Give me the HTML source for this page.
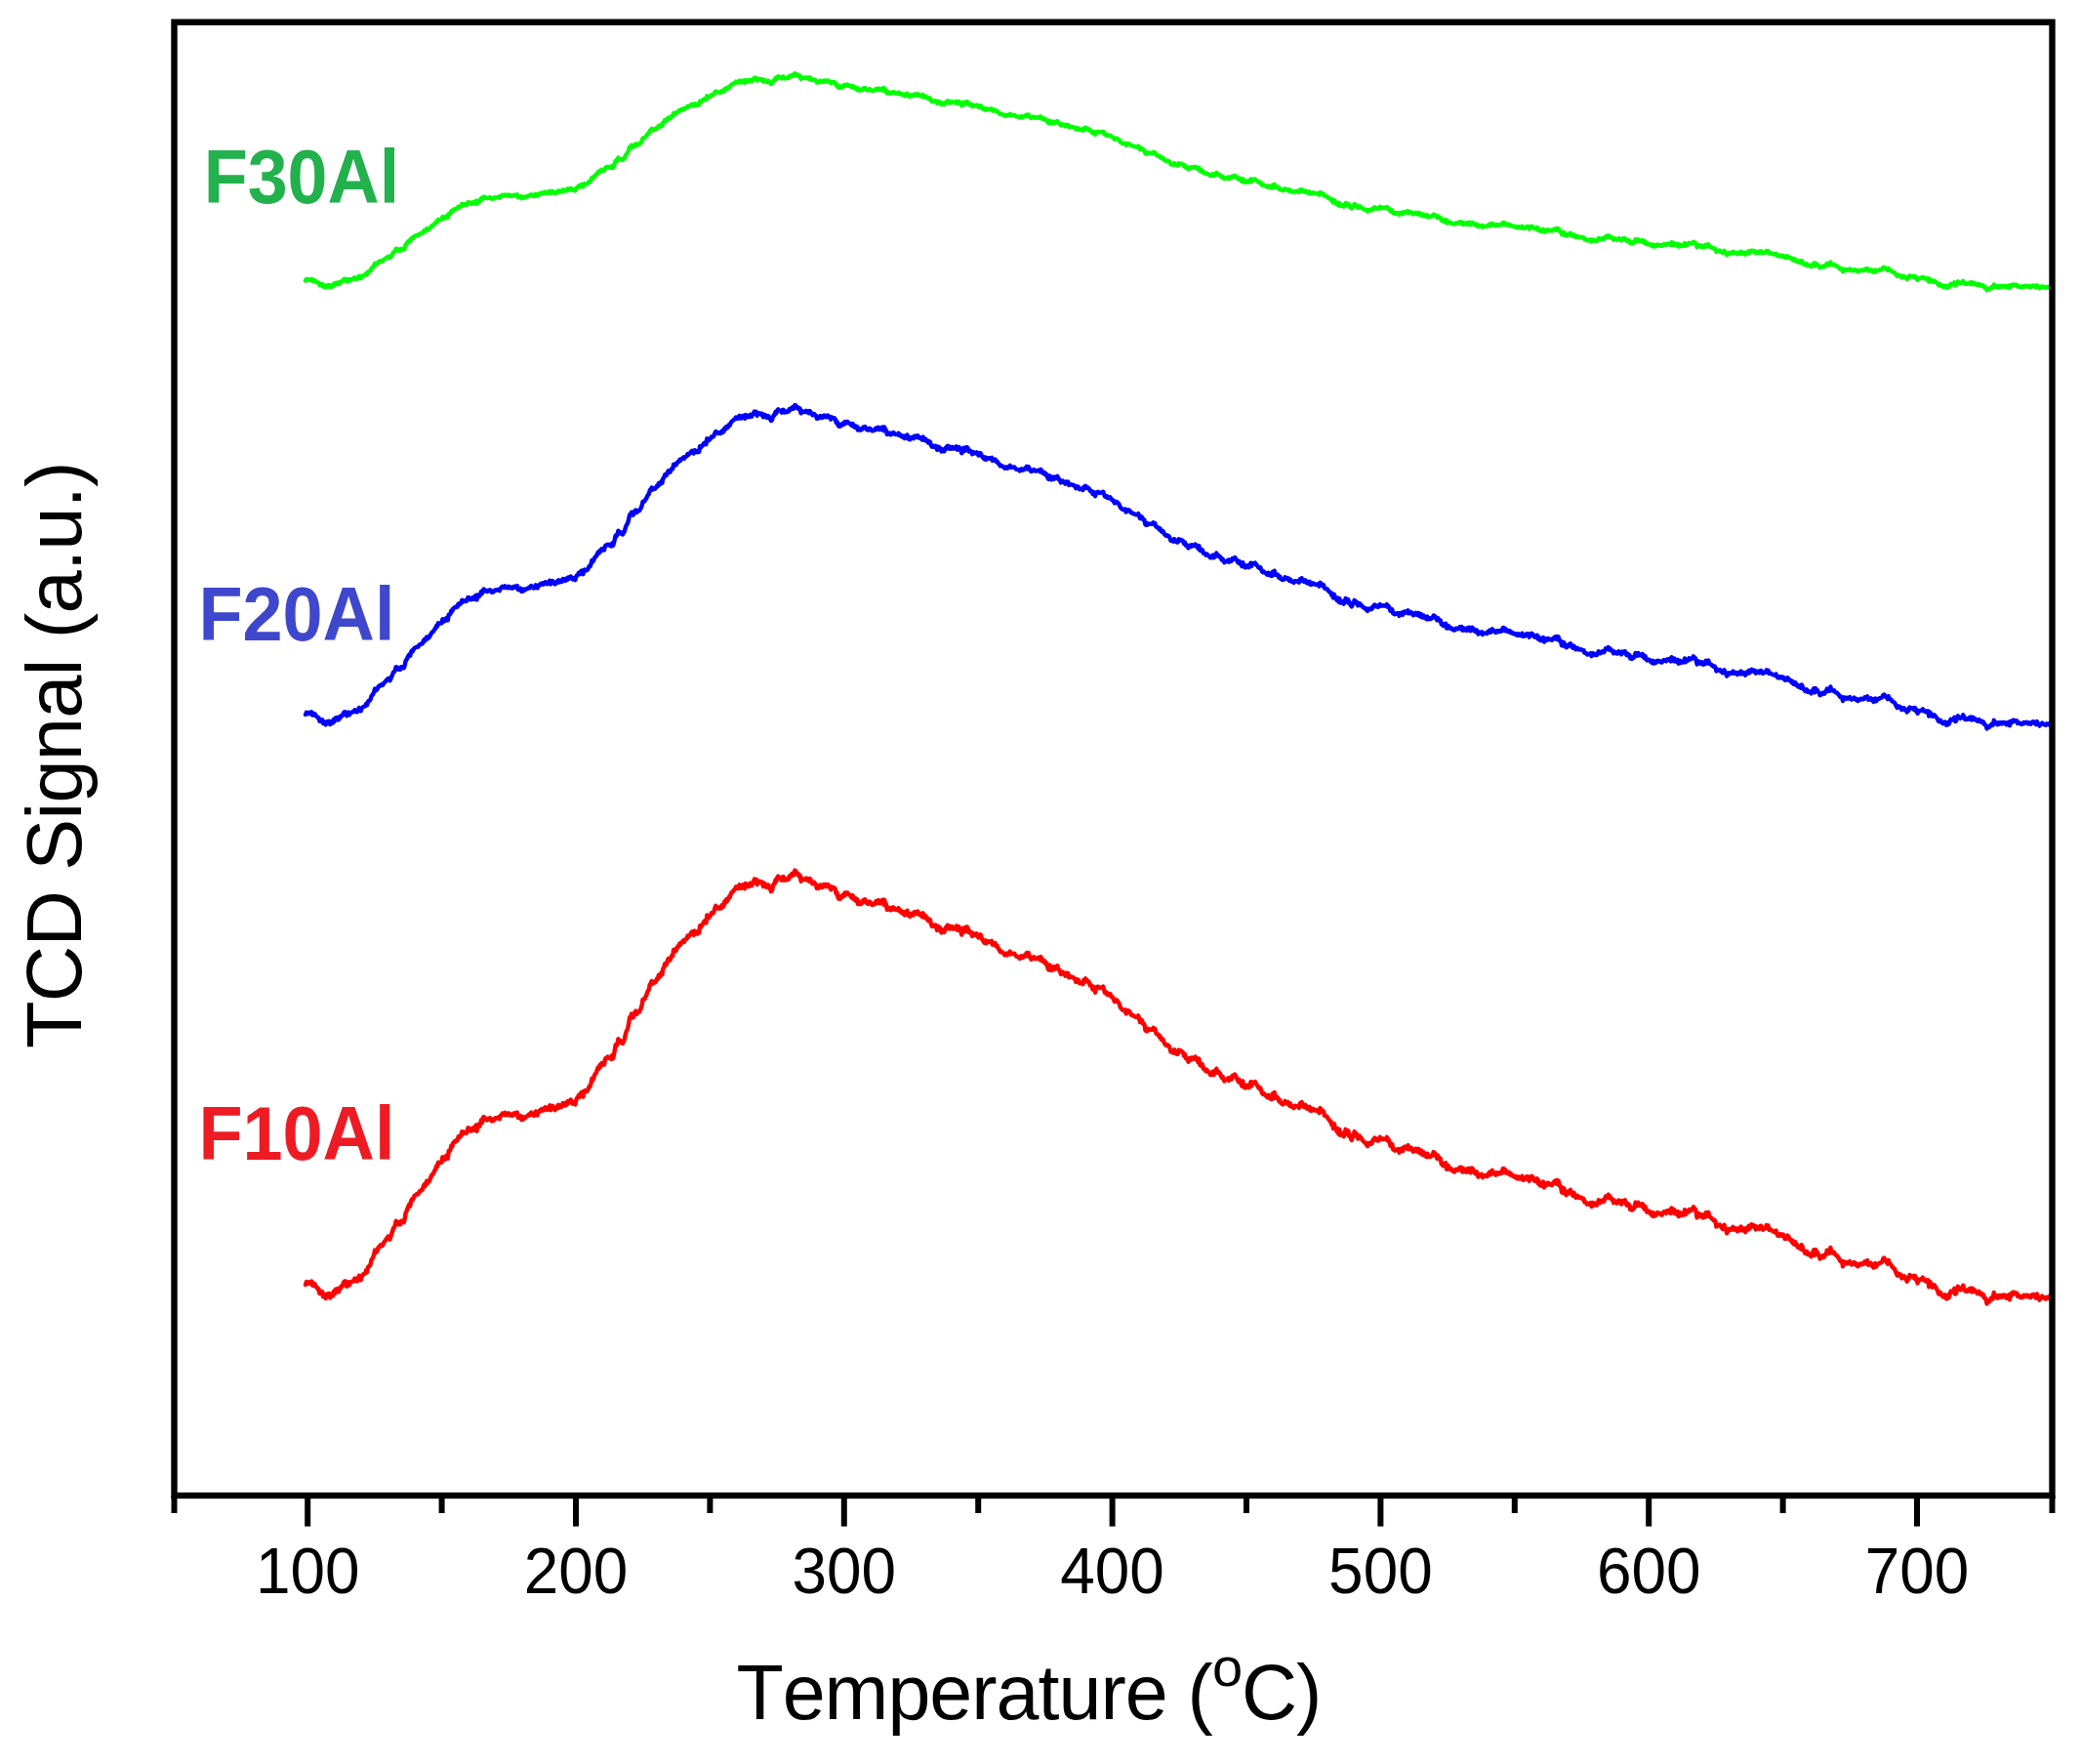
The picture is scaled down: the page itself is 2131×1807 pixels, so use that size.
<!DOCTYPE html>
<html><head><meta charset="utf-8"><title>TCD Signal</title>
<style>
html,body{margin:0;padding:0;background:#fff;}
body{width:2131px;height:1807px;overflow:hidden;}
svg{display:block;font-family:"Liberation Sans",Arial,sans-serif;font-kerning:none;}
</style></head><body>
<svg width="2131" height="1807" viewBox="0 0 2131 1807">
<rect width="2131" height="1807" fill="#fff"/>
<g fill="none" stroke-linejoin="round" stroke-linecap="round" stroke-width="4.4">
<polyline stroke="#00ff00" points="313.0,287.5 313.9,286.0 314.8,286.5 315.7,286.9 316.6,286.2 317.5,286.9 318.4,287.0 319.3,285.8 320.2,288.0 321.1,287.8 322.0,287.0 322.9,287.4 323.8,288.6 324.7,288.9 325.6,289.7 326.5,289.7 327.4,292.0 328.3,291.9 329.2,292.2 330.1,291.0 331.0,293.6 331.9,292.7 332.8,292.5 333.7,294.5 334.6,293.1 335.5,292.3 336.4,293.2 337.3,292.0 338.2,294.3 339.1,292.9 340.0,292.3 340.9,293.3 341.8,290.9 342.7,292.2 343.6,289.9 344.5,290.5 345.4,289.7 346.3,291.2 347.2,291.0 348.1,289.0 349.0,289.4 349.9,288.2 350.8,288.3 351.7,286.8 352.6,285.9 353.5,285.7 354.4,287.2 355.3,288.4 356.2,286.8 357.1,286.0 358.0,287.7 358.9,286.3 359.8,286.1 360.7,286.0 361.6,285.6 362.5,285.3 363.4,284.3 364.3,285.6 365.2,285.0 366.1,285.7 367.0,284.3 367.9,282.9 368.8,284.0 369.7,285.0 370.6,283.2 371.5,282.6 372.4,282.1 373.3,282.0 374.2,281.8 375.1,280.1 376.0,281.1 376.9,278.8 377.8,278.0 378.7,278.0 379.6,277.1 380.5,274.8 381.4,274.2 382.3,273.5 383.2,271.8 384.1,269.8 385.0,271.1 385.9,270.7 386.8,269.8 387.7,268.2 388.6,268.2 389.5,267.3 390.4,267.0 391.3,267.6 392.2,267.2 393.1,266.0 394.0,265.4 394.9,264.9 395.8,264.0 396.7,263.6 397.6,262.8 398.5,262.9 399.4,264.3 400.3,263.0 401.2,261.5 402.1,260.1 403.0,258.6 403.9,258.2 404.8,257.0 405.7,254.9 406.6,256.2 407.5,255.3 408.4,256.6 409.3,255.6 410.2,256.6 411.1,254.9 412.0,254.9 412.9,255.2 413.8,255.7 414.7,253.8 415.6,250.6 416.5,249.9 417.4,248.6 418.3,247.4 419.2,246.4 420.1,247.4 421.0,245.0 421.9,243.8 422.8,244.1 423.7,242.9 424.6,241.9 425.5,241.7 426.4,241.3 427.3,241.0 428.2,241.2 429.1,240.4 430.0,239.5 430.9,239.5 431.8,239.0 432.7,238.9 433.6,237.4 434.5,236.2 435.4,237.1 436.3,235.5 437.2,234.4 438.1,235.6 439.0,234.2 439.9,234.5 440.8,233.2 441.7,232.0 442.6,231.1 443.5,230.8 444.4,230.2 445.3,228.9 446.2,228.5 447.1,226.7 448.0,227.1 448.9,224.9 449.8,225.2 450.7,225.1 451.6,224.6 452.5,224.8 453.4,222.1 454.3,223.5 455.2,223.6 456.1,223.2 457.0,221.5 457.9,222.2 458.8,222.9 459.7,219.0 460.6,219.1 461.5,218.3 462.4,216.3 463.3,216.7 464.2,214.9 465.1,214.5 466.0,213.9 466.9,214.1 467.8,213.4 468.7,213.6 469.6,211.6 470.5,211.6 471.4,211.9 472.3,211.0 473.2,209.1 474.1,210.4 475.0,209.3 475.9,209.7 476.8,209.4 477.7,209.9 478.6,208.8 479.5,207.1 480.4,207.3 481.3,208.6 482.2,207.7 483.1,208.7 484.0,207.9 484.9,207.1 485.8,208.4 486.7,206.9 487.6,205.8 488.5,208.8 489.4,205.5 490.3,206.8 491.2,206.4 492.1,205.2 493.0,203.2 493.9,204.5 494.8,202.1 495.7,201.5 496.6,202.0 497.5,203.0 498.4,202.7 499.3,203.2 500.2,202.4 501.1,202.7 502.0,202.1 502.9,202.9 503.8,203.7 504.7,203.1 505.6,203.5 506.5,202.4 507.4,202.2 508.3,202.4 509.2,201.9 510.1,202.3 511.0,201.7 511.9,202.6 512.8,200.9 513.7,200.6 514.6,199.8 515.5,200.3 516.4,200.5 517.3,199.5 518.2,200.0 519.1,200.6 520.0,199.9 520.9,199.6 521.8,200.8 522.7,200.1 523.6,200.3 524.5,200.9 525.4,200.9 526.3,199.8 527.2,199.6 528.1,200.3 529.0,200.3 529.9,199.3 530.8,202.0 531.7,201.3 532.6,202.1 533.5,201.0 534.4,203.2 535.3,202.1 536.2,202.7 537.1,201.6 538.0,202.1 538.9,201.6 539.8,201.2 540.7,201.2 541.6,200.4 542.5,200.8 543.4,199.7 544.3,199.3 545.2,200.0 546.1,200.5 547.0,201.0 547.9,200.6 548.8,198.7 549.7,200.2 550.6,200.7 551.5,199.3 552.4,198.5 553.3,198.8 554.2,197.8 555.1,198.3 556.0,197.4 556.9,198.2 557.8,197.6 558.7,196.7 559.6,197.7 560.5,198.0 561.4,196.9 562.3,197.0 563.2,195.7 564.1,198.1 565.0,197.0 565.9,195.9 566.8,196.2 567.7,197.4 568.6,198.1 569.5,197.2 570.4,197.3 571.3,195.9 572.2,195.4 573.1,196.9 574.0,196.3 574.9,195.6 575.8,196.4 576.7,194.4 577.6,194.6 578.5,195.4 579.4,195.7 580.3,194.1 581.2,195.1 582.1,193.4 583.0,194.2 583.9,193.8 584.8,192.8 585.7,194.2 586.6,194.8 587.5,194.0 588.4,194.1 589.3,195.3 590.2,193.0 591.1,192.0 592.0,191.7 592.9,190.4 593.8,191.4 594.7,190.1 595.6,188.9 596.5,188.9 597.4,191.3 598.3,188.5 599.2,188.1 600.1,188.7 601.0,188.7 601.9,188.2 602.8,187.1 603.7,185.8 604.6,186.0 605.5,184.3 606.4,181.9 607.3,182.8 608.2,181.7 609.1,180.2 610.0,179.4 610.9,179.0 611.8,177.5 612.7,176.2 613.6,176.8 614.5,175.0 615.4,175.8 616.3,173.9 617.2,174.4 618.1,173.9 619.0,174.8 619.9,172.1 620.8,171.3 621.7,171.4 622.6,170.8 623.5,171.0 624.4,171.5 625.3,171.6 626.2,172.0 627.1,170.0 628.0,171.7 628.9,170.1 629.8,167.3 630.7,164.6 631.6,165.2 632.5,164.2 633.4,161.5 634.3,163.3 635.2,163.1 636.1,162.7 637.0,163.7 637.9,164.0 638.8,162.9 639.7,162.1 640.6,159.8 641.5,158.1 642.4,157.1 643.3,155.8 644.2,153.4 645.1,150.5 646.0,151.0 646.9,148.8 647.8,149.8 648.7,150.7 649.6,149.0 650.5,147.8 651.4,147.3 652.3,149.0 653.2,147.7 654.1,147.8 655.0,147.8 655.9,146.8 656.8,145.7 657.7,144.1 658.6,141.4 659.5,141.4 660.4,141.3 661.3,140.1 662.2,139.3 663.1,137.8 664.0,136.8 664.9,136.2 665.8,133.7 666.7,133.3 667.6,131.9 668.5,133.5 669.4,132.4 670.3,132.3 671.2,132.7 672.1,132.0 673.0,130.7 673.9,131.0 674.8,128.9 675.7,129.9 676.6,129.3 677.5,127.6 678.4,128.8 679.3,125.7 680.2,125.1 681.1,123.1 682.0,123.7 682.9,123.5 683.8,121.5 684.7,120.5 685.6,121.1 686.5,121.4 687.4,119.8 688.3,118.9 689.2,119.1 690.1,116.0 691.0,116.9 691.9,115.7 692.8,116.3 693.7,115.0 694.6,114.1 695.5,114.1 696.4,112.7 697.3,113.3 698.2,112.2 699.1,112.0 700.0,111.2 700.9,112.0 701.8,110.7 702.7,110.7 703.6,110.2 704.5,108.8 705.4,109.4 706.3,108.7 707.2,108.2 708.1,107.2 709.0,106.7 709.9,107.3 710.8,108.5 711.7,106.3 712.6,107.4 713.5,106.8 714.4,107.8 715.3,107.6 716.2,107.3 717.1,103.6 718.0,104.4 718.9,103.3 719.8,103.1 720.7,101.8 721.6,101.3 722.5,101.8 723.4,102.3 724.3,98.3 725.2,99.7 726.1,99.7 727.0,99.0 727.9,98.3 728.8,97.1 729.7,97.0 730.6,97.2 731.5,96.3 732.4,94.5 733.3,93.5 734.2,94.3 735.1,94.1 736.0,94.8 736.9,94.6 737.8,94.2 738.7,94.7 739.6,93.1 740.5,94.0 741.4,93.6 742.3,91.3 743.2,91.8 744.1,90.2 745.0,91.1 745.9,90.4 746.8,88.9 747.7,89.2 748.6,87.5 749.5,86.7 750.4,86.2 751.3,85.9 752.2,85.1 753.1,84.9 754.0,83.7 754.9,84.5 755.8,84.6 756.7,83.4 757.6,82.7 758.5,84.2 759.4,84.5 760.3,83.5 761.2,82.6 762.1,83.7 763.0,84.6 763.9,82.0 764.8,83.7 765.7,83.1 766.6,82.6 767.5,83.5 768.4,81.8 769.3,82.7 770.2,83.1 771.1,81.9 772.0,80.8 772.9,79.8 773.8,80.2 774.7,79.9 775.6,82.6 776.5,81.4 777.4,80.9 778.3,80.8 779.2,81.2 780.1,81.8 781.0,81.3 781.9,83.6 782.8,81.9 783.7,82.0 784.6,83.0 785.5,84.0 786.4,84.0 787.3,82.8 788.2,84.1 789.1,84.9 790.0,86.1 790.9,85.7 791.8,83.6 792.7,82.3 793.6,82.2 794.5,80.1 795.4,80.9 796.3,78.9 797.2,78.3 798.1,79.0 799.0,79.0 799.9,79.4 800.8,80.4 801.7,78.7 802.6,78.5 803.5,80.3 804.4,80.1 805.3,80.3 806.2,80.1 807.1,79.3 808.0,79.7 808.9,78.1 809.8,78.5 810.7,77.5 811.6,76.9 812.5,77.9 813.4,77.5 814.3,75.3 815.2,75.6 816.1,76.3 817.0,77.4 817.9,77.0 818.8,78.3 819.7,77.9 820.6,80.9 821.5,79.5 822.4,79.9 823.3,79.8 824.2,80.1 825.1,79.9 826.0,79.3 826.9,80.2 827.8,79.8 828.7,80.8 829.6,79.4 830.5,80.0 831.4,81.3 832.3,82.1 833.2,81.7 834.1,81.4 835.0,82.2 835.9,82.4 836.8,84.5 837.7,84.2 838.6,84.5 839.5,83.6 840.4,82.7 841.3,83.9 842.2,84.0 843.1,83.1 844.0,82.5 844.9,83.5 845.8,82.5 846.7,83.5 847.6,82.6 848.5,82.5 849.4,83.8 850.3,83.8 851.2,85.1 852.1,83.7 853.0,84.3 853.9,84.1 854.8,84.2 855.7,84.9 856.6,87.2 857.5,86.6 858.4,89.0 859.3,89.8 860.2,88.6 861.1,89.8 862.0,88.6 862.9,89.0 863.8,87.8 864.7,88.4 865.6,86.8 866.5,87.7 867.4,86.7 868.3,86.7 869.2,87.7 870.1,87.7 871.0,87.9 871.9,88.9 872.8,89.3 873.7,88.1 874.6,89.9 875.5,90.4 876.4,89.7 877.3,91.0 878.2,90.1 879.1,92.5 880.0,91.7 880.9,91.7 881.8,92.5 882.7,91.4 883.6,91.9 884.5,90.5 885.4,90.8 886.3,90.1 887.2,91.1 888.1,92.2 889.0,91.7 889.9,92.4 890.8,91.2 891.7,91.6 892.6,92.1 893.5,93.0 894.4,92.8 895.3,92.6 896.2,92.6 897.1,91.2 898.0,91.1 898.9,92.1 899.8,90.6 900.7,91.1 901.6,92.2 902.5,91.0 903.4,91.4 904.3,90.4 905.2,92.8 906.1,90.4 907.0,92.0 907.9,92.7 908.8,95.5 909.7,95.2 910.6,95.3 911.5,94.5 912.4,95.7 913.3,95.4 914.2,94.8 915.1,94.2 916.0,94.4 916.9,95.4 917.8,95.5 918.7,95.5 919.6,95.6 920.5,94.6 921.4,96.2 922.3,95.6 923.2,96.6 924.1,97.1 925.0,96.5 925.9,96.5 926.8,98.2 927.7,97.9 928.6,97.4 929.5,95.9 930.4,98.3 931.3,98.7 932.2,99.0 933.1,97.5 934.0,97.4 934.9,97.4 935.8,98.3 936.7,96.6 937.6,97.3 938.5,96.6 939.4,97.4 940.3,96.2 941.2,97.9 942.1,97.4 943.0,97.7 943.9,98.5 944.8,99.1 945.7,97.1 946.6,99.3 947.5,99.2 948.4,98.7 949.3,100.1 950.2,99.8 951.1,101.1 952.0,100.2 952.9,100.5 953.8,102.6 954.7,103.9 955.6,103.2 956.5,104.0 957.4,103.5 958.3,103.3 959.2,104.4 960.1,106.0 961.0,103.8 961.9,105.2 962.8,104.4 963.7,106.3 964.6,107.2 965.5,105.7 966.4,106.0 967.3,107.0 968.2,105.7 969.1,104.5 970.0,104.2 970.9,103.3 971.8,105.2 972.7,103.9 973.6,105.3 974.5,105.2 975.4,104.1 976.3,104.2 977.2,105.3 978.1,104.9 979.0,105.0 979.9,103.7 980.8,105.9 981.7,104.9 982.6,104.1 983.5,105.7 984.4,106.7 985.3,108.3 986.2,106.0 987.1,104.8 988.0,106.9 988.9,104.9 989.8,104.3 990.7,104.2 991.6,104.8 992.5,107.2 993.4,106.4 994.3,106.7 995.2,107.2 996.1,109.0 997.0,107.5 997.9,108.5 998.8,108.3 999.7,108.4 1000.6,107.7 1001.5,108.9 1002.4,109.7 1003.3,108.6 1004.2,108.2 1005.1,108.7 1006.0,110.6 1006.9,111.0 1007.8,111.9 1008.7,112.4 1009.6,111.1 1010.5,112.6 1011.4,112.1 1012.3,111.6 1013.2,111.7 1014.1,112.0 1015.0,111.7 1015.9,111.5 1016.8,113.4 1017.7,112.6 1018.6,112.7 1019.5,112.5 1020.4,114.1 1021.3,113.7 1022.2,114.5 1023.1,115.7 1024.0,115.9 1024.9,117.1 1025.8,117.0 1026.7,117.0 1027.6,117.5 1028.5,117.8 1029.4,118.7 1030.3,118.2 1031.2,117.8 1032.1,118.7 1033.0,118.1 1033.9,117.6 1034.8,116.8 1035.7,118.2 1036.6,118.0 1037.5,117.9 1038.4,117.9 1039.3,117.9 1040.2,118.7 1041.1,119.3 1042.0,119.3 1042.9,119.6 1043.8,119.7 1044.7,120.5 1045.6,120.1 1046.5,119.1 1047.4,120.0 1048.3,119.8 1049.2,119.5 1050.1,118.6 1051.0,118.3 1051.9,117.5 1052.8,119.3 1053.7,117.5 1054.6,119.2 1055.5,119.6 1056.4,120.9 1057.3,120.6 1058.2,119.9 1059.1,119.6 1060.0,120.0 1060.9,120.6 1061.8,120.6 1062.7,120.3 1063.6,119.9 1064.5,120.2 1065.4,121.1 1066.3,119.5 1067.2,120.3 1068.1,121.9 1069.0,121.7 1069.9,121.5 1070.8,122.9 1071.7,122.5 1072.6,123.6 1073.5,125.4 1074.4,126.2 1075.3,123.7 1076.2,125.6 1077.1,126.5 1078.0,124.6 1078.9,125.2 1079.8,126.2 1080.7,124.7 1081.6,125.4 1082.5,125.2 1083.4,124.1 1084.3,126.2 1085.2,126.1 1086.1,127.3 1087.0,128.5 1087.9,127.8 1088.8,127.3 1089.7,128.3 1090.6,128.4 1091.5,129.4 1092.4,127.9 1093.3,128.4 1094.2,128.0 1095.1,130.2 1096.0,129.9 1096.9,129.7 1097.8,129.8 1098.7,130.1 1099.6,130.1 1100.5,130.7 1101.4,130.8 1102.3,132.4 1103.2,131.8 1104.1,131.2 1105.0,131.6 1105.9,133.1 1106.8,132.8 1107.7,132.8 1108.6,133.1 1109.5,133.6 1110.4,131.4 1111.3,131.6 1112.2,130.7 1113.1,132.3 1114.0,131.7 1114.9,132.0 1115.8,132.5 1116.7,134.1 1117.6,134.1 1118.5,134.3 1119.4,136.2 1120.3,135.0 1121.2,135.1 1122.1,137.8 1123.0,135.4 1123.9,135.1 1124.8,134.8 1125.7,135.1 1126.6,135.6 1127.5,135.4 1128.4,135.3 1129.3,135.2 1130.2,134.8 1131.1,136.6 1132.0,138.0 1132.9,138.2 1133.8,137.8 1134.7,139.0 1135.6,138.5 1136.5,139.1 1137.4,138.6 1138.3,139.6 1139.2,140.3 1140.1,140.4 1141.0,141.4 1141.9,142.6 1142.8,142.5 1143.7,141.6 1144.6,141.9 1145.5,142.7 1146.4,143.2 1147.3,144.7 1148.2,145.7 1149.1,146.3 1150.0,146.9 1150.9,147.0 1151.8,147.0 1152.7,146.7 1153.6,148.7 1154.5,148.3 1155.4,147.0 1156.3,147.2 1157.2,147.6 1158.1,148.3 1159.0,149.3 1159.9,149.3 1160.8,149.5 1161.7,149.8 1162.6,150.2 1163.5,150.3 1164.4,150.5 1165.3,150.5 1166.2,149.6 1167.1,151.2 1168.0,153.1 1168.9,151.7 1169.8,152.0 1170.7,153.6 1171.6,153.5 1172.5,154.4 1173.4,157.2 1174.3,157.7 1175.2,157.6 1176.1,156.4 1177.0,157.0 1177.9,156.7 1178.8,156.9 1179.7,157.0 1180.6,156.8 1181.5,155.9 1182.4,157.0 1183.3,156.4 1184.2,158.4 1185.1,159.2 1186.0,159.1 1186.9,159.5 1187.8,160.6 1188.7,160.2 1189.6,161.8 1190.5,162.2 1191.4,161.7 1192.3,162.9 1193.2,164.2 1194.1,164.6 1195.0,165.0 1195.9,164.6 1196.8,164.9 1197.7,165.3 1198.6,166.5 1199.5,168.3 1200.4,168.0 1201.3,168.6 1202.2,168.9 1203.1,167.1 1204.0,168.6 1204.9,168.6 1205.8,169.5 1206.7,169.4 1207.6,167.3 1208.5,167.5 1209.4,168.0 1210.3,167.7 1211.2,168.1 1212.1,168.6 1213.0,170.3 1213.9,169.5 1214.8,171.5 1215.7,171.2 1216.6,172.2 1217.5,173.3 1218.4,171.6 1219.3,171.5 1220.2,172.3 1221.1,171.2 1222.0,171.3 1222.9,171.7 1223.8,171.9 1224.7,170.8 1225.6,171.4 1226.5,172.3 1227.4,173.5 1228.3,171.7 1229.2,174.8 1230.1,175.2 1231.0,174.4 1231.9,174.8 1232.8,176.8 1233.7,176.7 1234.6,177.4 1235.5,178.1 1236.4,177.5 1237.3,178.1 1238.2,178.6 1239.1,179.1 1240.0,180.0 1240.9,180.0 1241.8,178.8 1242.7,178.2 1243.6,180.0 1244.5,178.5 1245.4,178.2 1246.3,176.9 1247.2,178.8 1248.1,178.3 1249.0,179.2 1249.9,179.2 1250.8,180.4 1251.7,181.5 1252.6,180.9 1253.5,182.0 1254.4,183.2 1255.3,182.7 1256.2,182.4 1257.1,182.5 1258.0,181.7 1258.9,183.0 1259.8,181.5 1260.7,182.5 1261.6,182.4 1262.5,180.5 1263.4,181.1 1264.3,180.5 1265.2,179.8 1266.1,180.9 1267.0,181.5 1267.9,182.8 1268.8,183.5 1269.7,182.5 1270.6,183.5 1271.5,184.8 1272.4,185.8 1273.3,183.3 1274.2,186.2 1275.1,185.3 1276.0,186.8 1276.9,185.5 1277.8,185.4 1278.7,186.0 1279.6,186.6 1280.5,185.6 1281.4,183.6 1282.3,185.7 1283.2,183.8 1284.1,184.1 1285.0,183.8 1285.9,183.5 1286.8,184.5 1287.7,185.1 1288.6,185.9 1289.5,186.8 1290.4,187.1 1291.3,186.7 1292.2,188.1 1293.1,189.5 1294.0,189.9 1294.9,189.5 1295.8,190.1 1296.7,190.6 1297.6,191.1 1298.5,191.6 1299.4,190.3 1300.3,190.6 1301.2,192.1 1302.1,192.4 1303.0,192.5 1303.9,189.6 1304.8,191.2 1305.7,188.9 1306.6,191.9 1307.5,191.4 1308.4,191.4 1309.3,191.8 1310.2,193.5 1311.1,192.9 1312.0,194.4 1312.9,194.6 1313.8,195.0 1314.7,195.1 1315.6,194.6 1316.5,193.4 1317.4,194.4 1318.3,194.1 1319.2,193.9 1320.1,195.1 1321.0,195.8 1321.9,194.7 1322.8,196.1 1323.7,196.5 1324.6,196.4 1325.5,197.0 1326.4,195.9 1327.3,196.0 1328.2,196.2 1329.1,196.0 1330.0,195.8 1330.9,196.9 1331.8,194.6 1332.7,194.9 1333.6,194.0 1334.5,195.5 1335.4,196.2 1336.3,196.5 1337.2,195.4 1338.1,195.9 1339.0,197.3 1339.9,196.5 1340.8,197.6 1341.7,196.4 1342.6,198.4 1343.5,198.4 1344.4,198.2 1345.3,197.3 1346.2,197.9 1347.1,198.2 1348.0,198.4 1348.9,198.2 1349.8,198.1 1350.7,198.5 1351.6,199.5 1352.5,197.0 1353.4,197.7 1354.3,198.0 1355.2,199.1 1356.1,198.8 1357.0,201.0 1357.9,201.1 1358.8,201.2 1359.7,201.4 1360.6,202.5 1361.5,202.9 1362.4,203.7 1363.3,203.7 1364.2,205.5 1365.1,204.7 1366.0,207.6 1366.9,205.1 1367.8,207.6 1368.7,207.4 1369.6,209.1 1370.5,207.6 1371.4,210.3 1372.3,208.0 1373.2,210.9 1374.1,209.9 1375.0,209.9 1375.9,210.4 1376.8,211.6 1377.7,210.4 1378.6,207.9 1379.5,210.2 1380.4,209.3 1381.3,208.7 1382.2,211.4 1383.1,210.8 1384.0,212.8 1384.9,213.5 1385.8,211.7 1386.7,211.5 1387.6,209.1 1388.5,210.2 1389.4,210.1 1390.3,210.8 1391.2,212.8 1392.1,211.8 1393.0,211.3 1393.9,212.5 1394.8,212.4 1395.7,213.4 1396.6,214.0 1397.5,214.4 1398.4,214.8 1399.3,214.8 1400.2,216.0 1401.1,216.5 1402.0,215.0 1402.9,215.1 1403.8,214.9 1404.7,215.5 1405.6,215.0 1406.5,213.4 1407.4,213.7 1408.3,212.3 1409.2,212.6 1410.1,213.3 1411.0,213.6 1411.9,213.8 1412.8,212.8 1413.7,211.9 1414.6,213.1 1415.5,212.6 1416.4,213.0 1417.3,212.7 1418.2,213.1 1419.1,212.9 1420.0,213.0 1420.9,212.0 1421.8,213.7 1422.7,213.3 1423.6,214.4 1424.5,216.4 1425.4,216.0 1426.3,215.5 1427.2,218.2 1428.1,218.5 1429.0,218.8 1429.9,218.2 1430.8,218.5 1431.7,218.2 1432.6,218.0 1433.5,219.9 1434.4,218.3 1435.3,218.0 1436.2,217.7 1437.1,219.1 1438.0,218.1 1438.9,216.9 1439.8,216.9 1440.7,217.4 1441.6,217.8 1442.5,216.1 1443.4,218.1 1444.3,217.4 1445.2,217.2 1446.1,217.5 1447.0,218.6 1447.9,219.4 1448.8,218.3 1449.7,218.8 1450.6,217.9 1451.5,219.0 1452.4,219.4 1453.3,217.9 1454.2,219.0 1455.1,220.3 1456.0,218.7 1456.9,220.0 1457.8,221.1 1458.7,219.7 1459.6,221.0 1460.5,221.4 1461.4,222.0 1462.3,220.3 1463.2,222.1 1464.1,221.4 1465.0,222.0 1465.9,221.9 1466.8,221.2 1467.7,221.3 1468.6,219.6 1469.5,219.8 1470.4,220.4 1471.3,221.4 1472.2,222.8 1473.1,221.3 1474.0,222.9 1474.9,222.6 1475.8,222.9 1476.7,225.7 1477.6,225.1 1478.5,226.7 1479.4,226.7 1480.3,225.4 1481.2,225.1 1482.1,228.4 1483.0,226.9 1483.9,226.7 1484.8,228.4 1485.7,228.3 1486.6,228.1 1487.5,228.6 1488.4,229.4 1489.3,229.5 1490.2,229.7 1491.1,228.6 1492.0,228.4 1492.9,228.8 1493.8,228.3 1494.7,228.6 1495.6,227.4 1496.5,227.9 1497.4,227.5 1498.3,229.8 1499.2,228.0 1500.1,229.6 1501.0,228.8 1501.9,229.7 1502.8,229.9 1503.7,228.0 1504.6,229.1 1505.5,227.8 1506.4,230.2 1507.3,228.7 1508.2,227.8 1509.1,228.4 1510.0,229.8 1510.9,230.4 1511.8,230.7 1512.7,229.6 1513.6,230.5 1514.5,232.3 1515.4,231.0 1516.3,231.7 1517.2,231.3 1518.1,230.9 1519.0,232.6 1519.9,232.0 1520.8,231.7 1521.7,231.7 1522.6,231.9 1523.5,232.1 1524.4,230.8 1525.3,230.4 1526.2,229.7 1527.1,231.2 1528.0,229.8 1528.9,228.9 1529.8,229.9 1530.7,230.2 1531.6,231.0 1532.5,231.3 1533.4,230.1 1534.3,230.2 1535.2,230.8 1536.1,230.1 1537.0,230.5 1537.9,230.5 1538.8,229.8 1539.7,228.1 1540.6,228.0 1541.5,230.1 1542.4,228.7 1543.3,230.3 1544.2,230.5 1545.1,230.1 1546.0,229.9 1546.9,231.1 1547.8,230.6 1548.7,231.4 1549.6,231.9 1550.5,231.6 1551.4,232.3 1552.3,232.5 1553.2,232.1 1554.1,233.2 1555.0,233.2 1555.9,232.3 1556.8,233.3 1557.7,233.3 1558.6,233.0 1559.5,231.8 1560.4,233.9 1561.3,233.8 1562.2,233.7 1563.1,233.3 1564.0,232.1 1564.9,233.1 1565.8,232.2 1566.7,234.5 1567.6,232.4 1568.5,233.3 1569.4,231.9 1570.3,232.4 1571.2,233.2 1572.1,234.3 1573.0,234.4 1573.9,234.5 1574.8,233.1 1575.7,235.6 1576.6,234.3 1577.5,236.5 1578.4,236.8 1579.3,236.1 1580.2,236.3 1581.1,234.8 1582.0,237.7 1582.9,236.1 1583.8,236.8 1584.7,235.5 1585.6,236.2 1586.5,235.4 1587.4,236.3 1588.3,236.1 1589.2,236.0 1590.1,236.5 1591.0,235.5 1591.9,235.0 1592.8,234.5 1593.7,235.6 1594.6,234.0 1595.5,235.9 1596.4,234.1 1597.3,235.5 1598.2,237.1 1599.1,237.2 1600.0,240.1 1600.9,240.4 1601.8,237.9 1602.7,238.8 1603.6,240.0 1604.5,241.6 1605.4,241.3 1606.3,240.8 1607.2,239.6 1608.1,240.2 1609.0,238.9 1609.9,239.9 1610.8,241.5 1611.7,241.9 1612.6,240.5 1613.5,241.7 1614.4,242.9 1615.3,242.0 1616.2,241.9 1617.1,242.9 1618.0,243.0 1618.9,243.0 1619.8,242.8 1620.7,243.1 1621.6,243.7 1622.5,243.5 1623.4,245.2 1624.3,245.1 1625.2,245.5 1626.1,246.4 1627.0,246.2 1627.9,246.3 1628.8,245.7 1629.7,245.5 1630.6,247.5 1631.5,245.5 1632.4,245.7 1633.3,245.8 1634.2,246.8 1635.1,246.6 1636.0,246.8 1636.9,245.6 1637.8,244.1 1638.7,245.4 1639.6,245.6 1640.5,244.6 1641.4,244.2 1642.3,244.5 1643.2,244.9 1644.1,243.6 1645.0,242.3 1645.9,242.7 1646.8,242.8 1647.7,241.3 1648.6,243.0 1649.5,242.2 1650.4,243.5 1651.3,243.7 1652.2,243.7 1653.1,245.6 1654.0,244.4 1654.9,244.7 1655.8,245.5 1656.7,245.8 1657.6,245.1 1658.5,244.2 1659.4,245.4 1660.3,245.3 1661.2,246.3 1662.1,244.5 1663.0,244.7 1663.9,244.4 1664.8,244.2 1665.7,245.8 1666.6,246.8 1667.5,245.9 1668.4,246.6 1669.3,246.6 1670.2,249.0 1671.1,248.0 1672.0,249.3 1672.9,248.7 1673.8,248.7 1674.7,247.4 1675.6,245.3 1676.5,246.7 1677.4,247.2 1678.3,245.3 1679.2,246.9 1680.1,246.8 1681.0,246.5 1681.9,247.2 1682.8,246.1 1683.7,247.8 1684.6,248.8 1685.5,247.4 1686.4,248.8 1687.3,250.3 1688.2,249.8 1689.1,249.8 1690.0,249.9 1690.9,251.2 1691.8,251.4 1692.7,252.2 1693.6,250.6 1694.5,252.5 1695.4,251.3 1696.3,252.1 1697.2,251.0 1698.1,250.6 1699.0,251.1 1699.9,250.7 1700.8,251.1 1701.7,251.7 1702.6,251.8 1703.5,251.0 1704.4,250.2 1705.3,250.1 1706.2,250.7 1707.1,250.9 1708.0,249.7 1708.9,249.8 1709.8,249.5 1710.7,250.3 1711.6,251.0 1712.5,248.2 1713.4,250.7 1714.3,250.2 1715.2,249.0 1716.1,251.1 1717.0,250.9 1717.9,251.2 1718.8,249.9 1719.7,252.6 1720.6,251.0 1721.5,250.7 1722.4,252.1 1723.3,251.4 1724.2,251.6 1725.1,251.7 1726.0,249.0 1726.9,251.6 1727.8,249.9 1728.7,250.1 1729.6,250.4 1730.5,248.9 1731.4,249.5 1732.3,249.6 1733.2,248.8 1734.1,248.9 1735.0,247.7 1735.9,248.3 1736.8,248.7 1737.7,250.3 1738.6,253.2 1739.5,250.9 1740.4,251.0 1741.3,251.4 1742.2,252.6 1743.1,252.8 1744.0,251.7 1744.9,253.2 1745.8,252.3 1746.7,252.8 1747.6,250.6 1748.5,250.8 1749.4,252.3 1750.3,250.4 1751.2,252.5 1752.1,252.8 1753.0,253.1 1753.9,253.7 1754.8,254.1 1755.7,254.6 1756.6,254.4 1757.5,255.1 1758.4,257.8 1759.3,256.9 1760.2,256.9 1761.1,257.2 1762.0,256.7 1762.9,257.9 1763.8,257.8 1764.7,258.9 1765.6,257.8 1766.5,256.9 1767.4,258.5 1768.3,259.6 1769.2,261.2 1770.1,260.3 1771.0,259.0 1771.9,259.6 1772.8,258.9 1773.7,259.3 1774.6,258.6 1775.5,257.9 1776.4,259.3 1777.3,259.0 1778.2,258.6 1779.1,258.8 1780.0,260.1 1780.9,258.8 1781.8,258.5 1782.7,259.6 1783.6,257.8 1784.5,259.7 1785.4,258.7 1786.3,258.8 1787.2,259.6 1788.1,260.6 1789.0,258.5 1789.9,259.6 1790.8,258.9 1791.7,257.4 1792.6,258.9 1793.5,257.3 1794.4,256.6 1795.3,256.9 1796.2,257.0 1797.1,258.2 1798.0,257.4 1798.9,259.2 1799.8,258.4 1800.7,257.9 1801.6,258.0 1802.5,259.0 1803.4,257.5 1804.3,257.3 1805.2,258.3 1806.1,259.3 1807.0,258.9 1807.9,258.8 1808.8,258.5 1809.7,257.0 1810.6,258.4 1811.5,257.2 1812.4,259.4 1813.3,259.0 1814.2,259.2 1815.1,259.8 1816.0,260.0 1816.9,260.2 1817.8,260.6 1818.7,260.1 1819.6,259.8 1820.5,261.3 1821.4,262.4 1822.3,262.3 1823.2,261.6 1824.1,262.4 1825.0,261.7 1825.9,262.4 1826.8,261.8 1827.7,262.4 1828.6,263.9 1829.5,263.1 1830.4,263.8 1831.3,262.3 1832.2,262.8 1833.1,263.6 1834.0,264.5 1834.9,264.3 1835.8,265.6 1836.7,264.9 1837.6,266.7 1838.5,266.8 1839.4,265.7 1840.3,267.4 1841.2,267.1 1842.1,268.4 1843.0,267.6 1843.9,268.6 1844.8,269.2 1845.7,267.1 1846.6,268.1 1847.5,270.0 1848.4,270.2 1849.3,271.4 1850.2,271.2 1851.1,270.4 1852.0,272.0 1852.9,271.5 1853.8,272.3 1854.7,272.5 1855.6,273.1 1856.5,271.3 1857.4,271.0 1858.3,269.6 1859.2,272.4 1860.1,269.6 1861.0,270.4 1861.9,270.9 1862.8,271.9 1863.7,272.8 1864.6,274.3 1865.5,273.9 1866.4,273.7 1867.3,272.6 1868.2,272.7 1869.1,273.3 1870.0,272.0 1870.9,271.9 1871.8,269.8 1872.7,271.4 1873.6,270.9 1874.5,271.3 1875.4,268.5 1876.3,270.8 1877.2,270.9 1878.1,271.3 1879.0,270.9 1879.9,271.8 1880.8,272.4 1881.7,272.5 1882.6,273.0 1883.5,273.8 1884.4,274.4 1885.3,275.5 1886.2,275.7 1887.1,275.4 1888.0,278.2 1888.9,275.8 1889.8,276.9 1890.7,275.9 1891.6,276.6 1892.5,276.0 1893.4,276.6 1894.3,275.9 1895.2,275.5 1896.1,276.6 1897.0,277.3 1897.9,276.7 1898.8,276.7 1899.7,276.0 1900.6,276.9 1901.5,277.5 1902.4,276.8 1903.3,278.2 1904.2,277.4 1905.1,277.6 1906.0,276.8 1906.9,276.6 1907.8,277.0 1908.7,277.0 1909.6,276.8 1910.5,275.7 1911.4,275.7 1912.3,276.3 1913.2,275.1 1914.1,277.4 1915.0,277.0 1915.9,276.9 1916.8,276.4 1917.7,277.7 1918.6,277.0 1919.5,278.8 1920.4,277.8 1921.3,276.5 1922.2,278.3 1923.1,277.4 1924.0,276.9 1924.9,276.7 1925.8,276.3 1926.7,276.2 1927.6,276.1 1928.5,275.4 1929.4,274.1 1930.3,273.8 1931.2,274.4 1932.1,275.4 1933.0,276.0 1933.9,276.9 1934.8,274.9 1935.7,276.6 1936.6,276.9 1937.5,277.3 1938.4,278.3 1939.3,278.6 1940.2,279.1 1941.1,279.4 1942.0,280.8 1942.9,281.8 1943.8,282.8 1944.7,281.8 1945.6,281.9 1946.5,282.7 1947.4,282.5 1948.3,284.2 1949.2,283.0 1950.1,283.9 1951.0,283.1 1951.9,284.1 1952.8,284.7 1953.7,285.9 1954.6,284.0 1955.5,284.6 1956.4,282.5 1957.3,283.0 1958.2,283.0 1959.1,283.0 1960.0,283.5 1960.9,284.1 1961.8,282.8 1962.7,284.9 1963.6,284.1 1964.5,286.8 1965.4,285.7 1966.3,285.3 1967.2,284.8 1968.1,284.7 1969.0,284.5 1969.9,283.8 1970.8,285.1 1971.7,285.0 1972.6,285.6 1973.5,285.2 1974.4,286.0 1975.3,285.1 1976.2,288.6 1977.1,285.9 1978.0,286.6 1978.9,288.1 1979.8,288.8 1980.7,287.8 1981.6,287.6 1982.5,288.3 1983.4,289.1 1984.3,289.8 1985.2,290.8 1986.1,292.1 1987.0,292.4 1987.9,291.4 1988.8,292.5 1989.7,293.0 1990.6,293.7 1991.5,292.8 1992.4,292.6 1993.3,294.0 1994.2,294.7 1995.1,292.8 1996.0,294.4 1996.9,293.9 1997.8,292.1 1998.7,290.8 1999.6,291.2 2000.5,291.0 2001.4,291.4 2002.3,289.4 2003.2,292.3 2004.1,292.0 2005.0,289.5 2005.9,288.4 2006.8,289.5 2007.7,289.7 2008.6,290.2 2009.5,289.5 2010.4,288.8 2011.3,287.8 2012.2,290.1 2013.1,290.7 2014.0,290.2 2014.9,290.9 2015.8,290.8 2016.7,290.4 2017.6,289.6 2018.5,290.6 2019.4,289.2 2020.3,291.3 2021.2,289.4 2022.1,290.7 2023.0,290.1 2023.9,291.3 2024.8,291.1 2025.7,292.0 2026.6,291.3 2027.5,291.0 2028.4,292.3 2029.3,292.5 2030.2,292.0 2031.1,293.0 2032.0,292.6 2032.9,294.3 2033.8,294.3 2034.7,295.0 2035.6,297.3 2036.5,295.8 2037.4,296.3 2038.3,296.1 2039.2,295.1 2040.1,294.3 2041.0,295.0 2041.9,294.6 2042.8,291.4 2043.7,293.5 2044.6,293.3 2045.5,293.1 2046.4,294.4 2047.3,293.0 2048.2,294.1 2049.1,293.0 2050.0,293.0 2050.9,293.9 2051.8,292.9 2052.7,293.4 2053.6,292.8 2054.5,293.1 2055.4,294.4 2056.3,294.3 2057.2,293.0 2058.1,292.6 2059.0,295.1 2059.9,292.4 2060.8,292.0 2061.7,292.7 2062.6,291.4 2063.5,291.4 2064.4,292.1 2065.3,292.2 2066.2,291.8 2067.1,293.5 2068.0,292.9 2068.9,293.3 2069.8,293.9 2070.7,293.6 2071.6,294.1 2072.5,293.9 2073.4,293.0 2074.3,293.6 2075.2,292.9 2076.1,292.8 2077.0,293.0 2077.9,293.8 2078.8,293.1 2079.7,293.8 2080.6,294.1 2081.5,292.9 2082.4,292.5 2083.3,292.4 2084.2,293.3 2085.1,293.8 2086.0,294.3 2086.9,292.2 2087.8,293.9 2088.7,294.1 2089.6,295.3 2090.5,294.0 2091.4,294.1 2092.3,293.3 2093.2,294.2 2094.1,294.2 2095.0,294.6 2095.9,294.7 2096.8,293.8 2097.7,294.5 2098.6,294.4 2099.5,294.3 2100.4,293.2 2101.3,293.7"/>
<polyline stroke="#0000ff" points="313.0,732.0 313.9,729.8 314.8,730.5 315.7,731.1 316.6,729.9 317.5,731.0 318.4,731.1 319.3,729.4 320.2,732.6 321.1,732.3 322.0,731.1 322.9,731.8 323.8,733.6 324.7,734.0 325.6,735.3 326.5,735.2 327.4,738.7 328.3,738.5 329.2,739.0 330.1,737.2 331.0,741.1 331.9,739.7 332.8,739.4 333.7,742.4 334.6,740.3 335.5,739.0 336.4,740.5 337.3,738.7 338.2,742.1 339.1,740.0 340.0,739.1 340.9,740.6 341.8,737.1 342.7,739.0 343.6,735.5 344.5,736.4 345.4,735.2 346.3,737.5 347.2,737.1 348.1,734.1 349.0,734.8 349.9,732.9 350.8,733.1 351.7,731.0 352.6,729.5 353.5,729.2 354.4,731.4 355.3,733.3 356.2,730.9 357.1,729.7 358.0,732.3 358.9,730.1 359.8,729.8 360.7,729.7 361.6,729.1 362.5,728.6 363.4,727.2 364.3,729.1 365.2,728.2 366.1,729.2 367.0,727.1 367.9,725.0 368.8,726.6 369.7,728.3 370.6,725.6 371.5,724.6 372.4,723.9 373.3,723.7 374.2,723.3 375.1,720.9 376.0,722.4 376.9,718.9 377.8,717.8 378.7,717.8 379.6,716.4 380.5,713.0 381.4,712.1 382.3,711.0 383.2,708.5 384.1,705.5 385.0,707.4 385.9,706.8 386.8,705.5 387.7,703.1 388.6,703.1 389.5,701.8 390.4,701.3 391.3,702.2 392.2,701.7 393.1,699.9 394.0,698.9 394.9,698.2 395.8,696.8 396.7,696.2 397.6,695.0 398.5,695.2 399.4,697.3 400.3,695.3 401.2,693.1 402.1,691.0 403.0,688.7 403.9,688.2 404.8,686.4 405.7,683.2 406.6,685.1 407.5,683.8 408.4,685.8 409.3,684.2 410.2,685.8 411.1,683.2 412.0,683.2 412.9,683.7 413.8,684.3 414.7,681.6 415.6,676.9 416.5,675.8 417.4,673.8 418.3,672.0 419.2,670.6 420.1,672.0 421.0,668.4 421.9,666.6 422.8,667.1 423.7,665.3 424.6,663.8 425.5,663.5 426.4,662.9 427.3,662.4 428.2,662.7 429.1,661.6 430.0,660.3 430.9,660.2 431.8,659.4 432.7,659.4 433.6,657.1 434.5,655.4 435.4,656.6 436.3,654.2 437.2,652.6 438.1,654.4 439.0,652.3 439.9,652.8 440.8,650.8 441.7,649.1 442.6,647.7 443.5,647.3 444.4,646.3 445.3,644.4 446.2,643.8 447.1,641.1 448.0,641.6 448.9,638.3 449.8,638.9 450.7,638.6 451.6,638.0 452.5,638.3 453.4,634.2 454.3,636.4 455.2,636.5 456.1,635.8 457.0,633.3 457.9,634.4 458.8,635.4 459.7,629.6 460.6,629.8 461.5,628.5 462.4,625.5 463.3,626.1 464.2,623.4 465.1,622.9 466.0,622.0 466.9,622.3 467.8,621.2 468.7,621.5 469.6,618.5 470.5,618.6 471.4,619.0 472.3,617.7 473.2,614.8 474.1,616.7 475.0,615.1 475.9,615.7 476.8,615.3 477.7,616.0 478.6,614.4 479.5,611.9 480.4,612.1 481.3,614.1 482.2,612.7 483.1,614.2 484.0,613.1 484.9,611.8 485.8,613.7 486.7,611.5 487.6,609.9 488.5,614.4 489.4,609.4 490.3,611.3 491.2,610.7 492.1,608.9 493.0,605.9 493.9,608.0 494.8,604.3 495.7,603.5 496.6,604.2 497.5,605.6 498.4,605.3 499.3,606.0 500.2,604.8 501.1,605.3 502.0,604.4 502.9,605.5 503.8,606.7 504.7,605.8 505.6,606.4 506.5,604.8 507.4,604.4 508.3,604.8 509.2,604.1 510.1,604.6 511.0,603.8 511.9,605.1 512.8,602.5 513.7,602.1 514.6,600.8 515.5,601.6 516.4,602.0 517.3,600.4 518.2,601.2 519.1,602.1 520.0,601.1 520.9,600.7 521.8,602.3 522.7,601.4 523.6,601.7 524.5,602.6 525.4,602.5 526.3,600.9 527.2,600.7 528.1,601.7 529.0,601.6 529.9,600.1 530.8,604.1 531.7,603.2 532.6,604.4 533.5,602.7 534.4,605.9 535.3,604.3 536.2,605.3 537.1,603.6 538.0,604.3 538.9,603.6 539.8,602.9 540.7,603.0 541.6,601.9 542.5,602.3 543.4,600.7 544.3,600.1 545.2,601.2 546.1,602.0 547.0,602.6 547.9,602.2 548.8,599.3 549.7,601.6 550.6,602.3 551.5,600.1 552.4,599.0 553.3,599.3 554.2,597.9 555.1,598.6 556.0,597.4 556.9,598.5 557.8,597.6 558.7,596.2 559.6,597.8 560.5,598.2 561.4,596.6 562.3,596.8 563.2,594.7 564.1,598.4 565.0,596.7 565.9,595.1 566.8,595.5 567.7,597.3 568.6,598.3 569.5,597.0 570.4,597.2 571.3,595.1 572.2,594.4 573.1,596.5 574.0,595.7 574.9,594.7 575.8,595.8 576.7,592.9 577.6,593.1 578.5,594.3 579.4,594.9 580.3,592.4 581.2,593.9 582.1,591.4 583.0,592.5 583.9,592.0 584.8,590.5 585.7,592.6 586.6,593.4 587.5,592.3 588.4,592.4 589.3,594.1 590.2,590.8 591.1,589.2 592.0,588.8 592.9,586.8 593.8,588.3 594.7,586.3 595.6,584.7 596.5,584.6 597.4,588.2 598.3,584.0 599.2,583.5 600.1,584.3 601.0,584.4 601.9,583.6 602.8,582.0 603.7,580.0 604.6,580.2 605.5,577.7 606.4,574.1 607.3,575.5 608.2,573.9 609.1,571.6 610.0,570.4 610.9,569.8 611.8,567.6 612.7,565.7 613.6,566.6 614.5,563.9 615.4,565.1 616.3,562.3 617.2,563.0 618.1,562.2 619.0,563.5 619.9,559.6 620.8,558.4 621.7,558.5 622.6,557.6 623.5,557.9 624.4,558.7 625.3,558.7 626.2,559.4 627.1,556.4 628.0,559.0 628.9,556.5 629.8,552.4 630.7,548.4 631.6,549.2 632.5,547.7 633.4,543.7 634.3,546.4 635.2,546.1 636.1,545.4 637.0,547.0 637.9,547.4 638.8,545.8 639.7,544.6 640.6,541.2 641.5,538.6 642.4,537.1 643.3,535.2 644.2,531.6 645.1,527.3 646.0,528.0 646.9,524.7 647.8,526.2 648.7,527.6 649.6,525.1 650.5,523.3 651.4,522.5 652.3,525.0 653.2,523.1 654.1,523.3 655.0,523.2 655.9,521.7 656.8,520.2 657.7,517.7 658.6,513.6 659.5,513.6 660.4,513.5 661.3,511.7 662.2,510.6 663.1,508.3 664.0,506.9 664.9,505.8 665.8,502.2 666.7,501.6 667.6,499.5 668.5,501.8 669.4,500.2 670.3,500.1 671.2,500.7 672.1,499.6 673.0,497.7 673.9,498.1 674.8,495.0 675.7,496.5 676.6,495.6 677.5,493.0 678.4,494.8 679.3,490.1 680.2,489.3 681.1,486.3 682.0,487.3 682.9,486.9 683.8,483.9 684.7,482.4 685.6,483.3 686.5,483.7 687.4,481.4 688.3,480.1 689.2,480.3 690.1,475.7 691.0,477.0 691.9,475.2 692.8,476.2 693.7,474.2 694.6,472.9 695.5,472.9 696.4,470.8 697.3,471.6 698.2,470.0 699.1,469.7 700.0,468.6 700.9,469.7 701.8,467.9 702.7,467.9 703.6,467.1 704.5,465.0 705.4,465.8 706.3,464.8 707.2,464.1 708.1,462.6 709.0,461.9 709.9,462.8 710.8,464.5 711.7,461.2 712.6,462.9 713.5,462.0 714.4,463.4 715.3,463.2 716.2,462.8 717.1,457.2 718.0,458.4 718.9,456.8 719.8,456.5 720.7,454.6 721.6,453.7 722.5,454.5 723.4,455.2 724.3,449.2 725.2,451.4 726.1,451.4 727.0,450.4 727.9,449.3 728.8,447.5 729.7,447.3 730.6,447.6 731.5,446.3 732.4,443.6 733.3,442.0 734.2,443.3 735.1,443.0 736.0,444.1 736.9,443.8 737.8,443.1 738.7,443.9 739.6,441.5 740.5,442.8 741.4,442.3 742.3,438.7 743.2,439.6 744.1,437.1 745.0,438.5 745.9,437.4 746.8,435.2 747.7,435.7 748.6,433.2 749.5,432.0 750.4,431.2 751.3,430.7 752.2,429.6 753.1,429.2 754.0,427.5 754.9,428.6 755.8,428.8 756.7,427.0 757.6,425.9 758.5,428.3 759.4,428.6 760.3,427.1 761.2,425.8 762.1,427.4 763.0,428.8 763.9,424.9 764.8,427.5 765.7,426.5 766.6,425.8 767.5,427.2 768.4,424.7 769.3,425.9 770.2,426.6 771.1,424.8 772.0,423.1 772.9,421.6 773.8,422.2 774.7,421.8 775.6,425.8 776.5,424.0 777.4,423.3 778.3,423.2 779.2,423.7 780.1,424.7 781.0,423.8 781.9,427.3 782.8,424.8 783.7,425.0 784.6,426.4 785.5,427.9 786.4,427.9 787.3,426.1 788.2,428.0 789.1,429.2 790.0,431.0 790.9,430.4 791.8,427.4 792.7,425.3 793.6,425.2 794.5,422.0 795.4,423.2 796.3,420.3 797.2,419.4 798.1,420.4 799.0,420.4 799.9,421.0 800.8,422.5 801.7,420.0 802.6,419.8 803.5,422.4 804.4,422.1 805.3,422.3 806.2,422.1 807.1,420.9 808.0,421.5 808.9,419.1 809.8,419.7 810.7,418.2 811.6,417.3 812.5,418.8 813.4,418.2 814.3,414.9 815.2,415.3 816.1,416.4 817.0,418.1 817.9,417.5 818.8,419.4 819.7,418.7 820.6,423.3 821.5,421.1 822.4,421.7 823.3,421.6 824.2,422.0 825.1,421.8 826.0,420.9 826.9,422.2 827.8,421.6 828.7,423.1 829.6,421.1 830.5,421.9 831.4,423.8 832.3,425.1 833.2,424.4 834.1,424.0 835.0,425.3 835.9,425.4 836.8,428.7 837.7,428.2 838.6,428.6 839.5,427.2 840.4,426.0 841.3,427.7 842.2,428.0 843.1,426.5 844.0,425.7 844.9,427.1 845.8,425.7 846.7,427.2 847.6,425.8 848.5,425.7 849.4,427.7 850.3,427.6 851.2,429.6 852.1,427.4 853.0,428.4 853.9,428.1 854.8,428.2 855.7,429.2 856.6,432.7 857.5,431.8 858.4,435.3 859.3,436.6 860.2,434.8 861.1,436.6 862.0,434.7 862.9,435.4 863.8,433.5 864.7,434.5 865.6,432.0 866.5,433.5 867.4,431.9 868.3,432.0 869.2,433.4 870.1,433.5 871.0,433.8 871.9,435.2 872.8,435.9 873.7,434.0 874.6,436.8 875.5,437.5 876.4,436.4 877.3,438.3 878.2,437.0 879.1,440.6 880.0,439.4 880.9,439.4 881.8,440.6 882.7,439.0 883.6,439.6 884.5,437.6 885.4,438.0 886.3,437.1 887.2,438.6 888.1,440.1 889.0,439.4 889.9,440.5 890.8,438.7 891.7,439.2 892.6,440.0 893.5,441.4 894.4,441.1 895.3,440.7 896.2,440.7 897.1,438.7 898.0,438.5 898.9,439.9 899.8,437.8 900.7,438.6 901.6,440.1 902.5,438.4 903.4,439.0 904.3,437.5 905.2,441.1 906.1,437.5 907.0,439.8 907.9,441.0 908.8,445.0 909.7,444.7 910.6,444.7 911.5,443.5 912.4,445.3 913.3,445.0 914.2,444.0 915.1,443.1 916.0,443.5 916.9,444.9 917.8,445.0 918.7,445.1 919.6,445.2 920.5,443.7 921.4,446.1 922.3,445.2 923.2,446.7 924.1,447.5 925.0,446.6 925.9,446.5 926.8,449.1 927.7,448.7 928.6,447.9 929.5,445.6 930.4,449.2 931.3,449.9 932.2,450.3 933.1,448.1 934.0,447.9 934.9,448.0 935.8,449.2 936.7,446.8 937.6,447.8 938.5,446.7 939.4,448.0 940.3,446.2 941.2,448.6 942.1,447.9 943.0,448.4 943.9,449.5 944.8,450.5 945.7,447.5 946.6,450.8 947.5,450.6 948.4,449.8 949.3,452.0 950.2,451.5 951.1,453.5 952.0,452.1 952.9,452.6 953.8,455.8 954.7,457.6 955.6,456.7 956.5,457.7 957.4,457.0 958.3,456.7 959.2,458.4 960.1,460.8 961.0,457.5 961.9,459.6 962.8,458.4 963.7,461.2 964.6,462.5 965.5,460.3 966.4,460.8 967.3,462.3 968.2,460.3 969.1,458.5 970.0,458.0 970.9,456.8 971.8,459.5 972.7,457.6 973.6,459.7 974.5,459.6 975.4,457.9 976.3,458.2 977.2,459.7 978.1,459.1 979.0,459.3 979.9,457.4 980.8,460.7 981.7,459.1 982.6,458.0 983.5,460.3 984.4,461.9 985.3,464.2 986.2,460.7 987.1,458.9 988.0,462.1 988.9,459.2 989.8,458.2 990.7,458.1 991.6,459.0 992.5,462.5 993.4,461.3 994.3,461.8 995.2,462.6 996.1,465.2 997.0,463.0 997.9,464.5 998.8,464.2 999.7,464.4 1000.6,463.3 1001.5,465.1 1002.4,466.4 1003.3,464.7 1004.2,464.0 1005.1,464.8 1006.0,467.6 1006.9,468.2 1007.8,469.6 1008.7,470.4 1009.6,468.4 1010.5,470.7 1011.4,469.8 1012.3,469.2 1013.2,469.3 1014.1,469.8 1015.0,469.3 1015.9,468.9 1016.8,471.8 1017.7,470.6 1018.6,470.8 1019.5,470.5 1020.4,472.8 1021.3,472.3 1022.2,473.5 1023.1,475.3 1024.0,475.6 1024.9,477.4 1025.8,477.3 1026.7,477.2 1027.6,477.9 1028.5,478.4 1029.4,479.7 1030.3,479.0 1031.2,478.4 1032.1,479.8 1033.0,478.9 1033.9,478.2 1034.8,476.9 1035.7,479.0 1036.6,478.7 1037.5,478.6 1038.4,478.5 1039.3,478.5 1040.2,479.7 1041.1,480.7 1042.0,480.7 1042.9,481.1 1043.8,481.2 1044.7,482.4 1045.6,481.9 1046.5,480.4 1047.4,481.7 1048.3,481.4 1049.2,481.0 1050.1,479.6 1051.0,479.1 1051.9,477.9 1052.8,480.6 1053.7,478.0 1054.6,480.5 1055.5,481.1 1056.4,483.0 1057.3,482.7 1058.2,481.6 1059.1,481.0 1060.0,481.8 1060.9,482.6 1061.8,482.5 1062.7,482.2 1063.6,481.6 1064.5,482.0 1065.4,483.3 1066.3,480.9 1067.2,482.1 1068.1,484.5 1069.0,484.2 1069.9,483.9 1070.8,486.1 1071.7,485.4 1072.6,487.1 1073.5,489.7 1074.4,491.0 1075.3,487.3 1076.2,490.0 1077.1,491.4 1078.0,488.6 1078.9,489.5 1079.8,490.9 1080.7,488.6 1081.6,489.7 1082.5,489.4 1083.4,487.9 1084.3,490.9 1085.2,490.8 1086.1,492.6 1087.0,494.4 1087.9,493.3 1088.8,492.6 1089.7,494.1 1090.6,494.3 1091.5,495.7 1092.4,493.4 1093.3,494.3 1094.2,493.6 1095.1,496.9 1096.0,496.5 1096.9,496.1 1097.8,496.3 1098.7,496.8 1099.6,496.7 1100.5,497.7 1101.4,497.8 1102.3,500.3 1103.2,499.4 1104.1,498.4 1105.0,499.0 1105.9,501.3 1106.8,500.7 1107.7,500.9 1108.6,501.3 1109.5,502.0 1110.4,498.7 1111.3,499.0 1112.2,497.7 1113.1,500.0 1114.0,499.2 1114.9,499.7 1115.8,500.4 1116.7,502.8 1117.6,502.7 1118.5,503.1 1119.4,505.9 1120.3,504.1 1121.2,504.3 1122.1,508.3 1123.0,504.7 1123.9,504.3 1124.8,503.8 1125.7,504.2 1126.6,505.0 1127.5,504.7 1128.4,504.5 1129.3,504.3 1130.2,503.7 1131.1,506.5 1132.0,508.6 1132.9,508.9 1133.8,508.2 1134.7,510.1 1135.6,509.4 1136.5,510.3 1137.4,509.4 1138.3,511.0 1139.2,512.0 1140.1,512.1 1141.0,513.7 1141.9,515.4 1142.8,515.3 1143.7,513.9 1144.6,514.4 1145.5,515.6 1146.4,516.3 1147.3,518.6 1148.2,520.1 1149.1,521.0 1150.0,521.8 1150.9,522.0 1151.8,522.0 1152.7,521.5 1153.6,524.5 1154.5,524.0 1155.4,522.1 1156.3,522.3 1157.2,523.0 1158.1,523.9 1159.0,525.5 1159.9,525.5 1160.8,525.8 1161.7,526.2 1162.6,526.8 1163.5,527.0 1164.4,527.3 1165.3,527.2 1166.2,526.0 1167.1,528.3 1168.0,531.1 1168.9,529.0 1169.8,529.5 1170.7,531.9 1171.6,531.8 1172.5,533.1 1173.4,537.2 1174.3,537.9 1175.2,537.8 1176.1,536.1 1177.0,537.0 1177.9,536.6 1178.8,536.8 1179.7,536.9 1180.6,536.6 1181.5,535.3 1182.4,537.0 1183.3,536.0 1184.2,539.1 1185.1,540.2 1186.0,540.1 1186.9,540.7 1187.8,542.4 1188.7,541.7 1189.6,544.1 1190.5,544.8 1191.4,544.0 1192.3,545.8 1193.2,547.6 1194.1,548.3 1195.0,548.9 1195.9,548.3 1196.8,548.8 1197.7,549.4 1198.6,551.2 1199.5,553.8 1200.4,553.4 1201.3,554.3 1202.2,554.7 1203.1,552.0 1204.0,554.3 1204.9,554.2 1205.8,555.6 1206.7,555.5 1207.6,552.3 1208.5,552.6 1209.4,553.4 1210.3,553.0 1211.2,553.6 1212.1,554.3 1213.0,556.8 1213.9,555.6 1214.8,558.6 1215.7,558.2 1216.6,559.7 1217.5,561.4 1218.4,558.8 1219.3,558.6 1220.2,559.9 1221.1,558.2 1222.0,558.4 1222.9,559.0 1223.8,559.2 1224.7,557.6 1225.6,558.4 1226.5,559.8 1227.4,561.7 1228.3,559.0 1229.2,563.6 1230.1,564.1 1231.0,562.9 1231.9,563.5 1232.8,566.6 1233.7,566.4 1234.6,567.4 1235.5,568.6 1236.4,567.5 1237.3,568.5 1238.2,569.2 1239.1,570.0 1240.0,571.3 1240.9,571.4 1241.8,569.5 1242.7,568.7 1243.6,571.3 1244.5,569.1 1245.4,568.6 1246.3,566.6 1247.2,569.6 1248.1,568.8 1249.0,570.1 1249.9,570.1 1250.8,571.9 1251.7,573.5 1252.6,572.7 1253.5,574.3 1254.4,576.2 1255.3,575.4 1256.2,575.0 1257.1,575.0 1258.0,573.9 1258.9,575.8 1259.8,573.5 1260.7,575.1 1261.6,574.8 1262.5,572.1 1263.4,573.0 1264.3,572.0 1265.2,571.0 1266.1,572.7 1267.0,573.6 1267.9,575.5 1268.8,576.6 1269.7,575.0 1270.6,576.6 1271.5,578.5 1272.4,580.0 1273.3,576.2 1274.2,580.6 1275.1,579.3 1276.0,581.4 1276.9,579.5 1277.8,579.3 1278.7,580.2 1279.6,581.2 1280.5,579.7 1281.4,576.7 1282.3,579.9 1283.2,577.0 1284.1,577.5 1285.0,577.0 1285.9,576.6 1286.8,578.0 1287.7,579.0 1288.6,580.1 1289.5,581.5 1290.4,581.9 1291.3,581.3 1292.2,583.5 1293.1,585.5 1294.0,586.2 1294.9,585.6 1295.8,586.5 1296.7,587.1 1297.6,588.0 1298.5,588.7 1299.4,586.8 1300.3,587.2 1301.2,589.4 1302.1,589.9 1303.0,590.0 1303.9,585.7 1304.8,588.1 1305.7,584.7 1306.6,589.1 1307.5,588.4 1308.4,588.4 1309.3,589.0 1310.2,591.5 1311.1,590.5 1312.0,592.9 1312.9,593.2 1313.8,593.8 1314.7,594.0 1315.6,593.1 1316.5,591.3 1317.4,592.9 1318.3,592.4 1319.2,592.1 1320.1,593.9 1321.0,594.9 1321.9,593.3 1322.8,595.4 1323.7,595.9 1324.6,595.8 1325.5,596.8 1326.4,595.1 1327.3,595.2 1328.2,595.5 1329.1,595.3 1330.0,594.9 1330.9,596.6 1331.8,593.2 1332.7,593.6 1333.6,592.2 1334.5,594.5 1335.4,595.6 1336.3,596.0 1337.2,594.3 1338.1,595.1 1339.0,597.2 1339.9,596.0 1340.8,597.6 1341.7,595.8 1342.6,598.8 1343.5,598.8 1344.4,598.5 1345.3,597.2 1346.2,598.1 1347.1,598.5 1348.0,598.8 1348.9,598.5 1349.8,598.4 1350.7,599.0 1351.6,600.5 1352.5,596.8 1353.4,597.8 1354.3,598.3 1355.2,599.9 1356.1,599.4 1357.0,602.6 1357.9,602.8 1358.8,603.1 1359.7,603.3 1360.6,604.9 1361.5,605.6 1362.4,606.8 1363.3,606.8 1364.2,609.5 1365.1,608.3 1366.0,612.5 1366.9,608.8 1367.8,612.5 1368.7,612.2 1369.6,614.8 1370.5,612.6 1371.4,616.6 1372.3,613.2 1373.2,617.5 1374.1,616.1 1375.0,615.9 1375.9,616.7 1376.8,618.6 1377.7,616.8 1378.6,613.0 1379.5,616.5 1380.4,615.1 1381.3,614.2 1382.2,618.2 1383.1,617.4 1384.0,620.3 1384.9,621.4 1385.8,618.7 1386.7,618.4 1387.6,614.8 1388.5,616.5 1389.4,616.3 1390.3,617.3 1391.2,620.3 1392.1,618.9 1393.0,618.2 1393.9,619.9 1394.8,619.8 1395.7,621.3 1396.6,622.1 1397.5,622.7 1398.4,623.3 1399.3,623.3 1400.2,625.1 1401.1,625.9 1402.0,623.6 1402.9,623.8 1403.8,623.4 1404.7,624.3 1405.6,623.7 1406.5,621.2 1407.4,621.6 1408.3,619.6 1409.2,620.0 1410.1,621.0 1411.0,621.6 1411.9,621.8 1412.8,620.3 1413.7,619.0 1414.6,620.8 1415.5,620.1 1416.4,620.6 1417.3,620.2 1418.2,620.7 1419.1,620.5 1420.0,620.6 1420.9,619.1 1421.8,621.7 1422.7,621.1 1423.6,622.7 1424.5,625.8 1425.4,625.1 1426.3,624.4 1427.2,628.4 1428.1,628.9 1429.0,629.3 1429.9,628.4 1430.8,628.8 1431.7,628.4 1432.6,628.1 1433.5,630.9 1434.4,628.6 1435.3,628.0 1436.2,627.6 1437.1,629.8 1438.0,628.2 1438.9,626.4 1439.8,626.4 1440.7,627.3 1441.6,627.9 1442.5,625.3 1443.4,628.3 1444.3,627.2 1445.2,626.9 1446.1,627.4 1447.0,628.9 1447.9,630.2 1448.8,628.6 1449.7,629.3 1450.6,627.9 1451.5,629.6 1452.4,630.1 1453.3,628.0 1454.2,629.5 1455.1,631.5 1456.0,629.1 1456.9,631.1 1457.8,632.7 1458.7,630.6 1459.6,632.6 1460.5,633.2 1461.4,634.1 1462.3,631.6 1463.2,634.2 1464.1,633.2 1465.0,634.1 1465.9,634.0 1466.8,632.9 1467.7,633.0 1468.6,630.4 1469.5,630.8 1470.4,631.7 1471.3,633.2 1472.2,635.3 1473.1,633.0 1474.0,635.4 1474.9,635.0 1475.8,635.4 1476.7,639.6 1477.6,638.8 1478.5,641.0 1479.4,641.0 1480.3,639.2 1481.2,638.7 1482.1,643.6 1483.0,641.3 1483.9,641.0 1484.8,643.6 1485.7,643.5 1486.6,643.1 1487.5,644.0 1488.4,645.1 1489.3,645.3 1490.2,645.6 1491.1,644.0 1492.0,643.6 1492.9,644.2 1493.8,643.5 1494.7,644.0 1495.6,642.2 1496.5,642.9 1497.4,642.2 1498.3,645.7 1499.2,643.0 1500.1,645.4 1501.0,644.2 1501.9,645.5 1502.8,645.9 1503.7,643.1 1504.6,644.6 1505.5,642.8 1506.4,646.3 1507.3,644.1 1508.2,642.7 1509.1,643.6 1510.0,645.8 1510.9,646.6 1511.8,647.1 1512.7,645.4 1513.6,646.8 1514.5,649.5 1515.4,647.5 1516.3,648.6 1517.2,647.9 1518.1,647.4 1519.0,649.9 1519.9,649.0 1520.8,648.6 1521.7,648.5 1522.6,648.8 1523.5,649.1 1524.4,647.2 1525.3,646.6 1526.2,645.6 1527.1,647.8 1528.0,645.8 1528.9,644.4 1529.8,645.8 1530.7,646.4 1531.6,647.5 1532.5,647.9 1533.4,646.2 1534.3,646.4 1535.2,647.2 1536.1,646.1 1537.0,646.8 1537.9,646.8 1538.8,645.7 1539.7,643.2 1540.6,643.0 1541.5,646.2 1542.4,644.0 1543.3,646.5 1544.2,646.8 1545.1,646.2 1546.0,645.9 1546.9,647.7 1547.8,646.9 1548.7,648.1 1549.6,648.9 1550.5,648.4 1551.4,649.4 1552.3,649.8 1553.2,649.2 1554.1,650.8 1555.0,650.7 1555.9,649.4 1556.8,651.0 1557.7,651.0 1558.6,650.5 1559.5,648.8 1560.4,651.8 1561.3,651.6 1562.2,651.5 1563.1,651.0 1564.0,649.2 1564.9,650.6 1565.8,649.3 1566.7,652.7 1567.6,649.6 1568.5,651.0 1569.4,648.9 1570.3,649.7 1571.2,650.7 1572.1,652.5 1573.0,652.7 1573.9,652.7 1574.8,650.7 1575.7,654.4 1576.6,652.5 1577.5,655.7 1578.4,656.2 1579.3,655.2 1580.2,655.5 1581.1,653.1 1582.0,657.6 1582.9,655.1 1583.8,656.1 1584.7,654.2 1585.6,655.3 1586.5,654.2 1587.4,655.4 1588.3,655.2 1589.2,655.0 1590.1,655.7 1591.0,654.2 1591.9,653.4 1592.8,652.7 1593.7,654.4 1594.6,652.0 1595.5,654.9 1596.4,652.2 1597.3,654.3 1598.2,656.6 1599.1,656.8 1600.0,661.2 1600.9,661.5 1601.8,657.8 1602.7,659.2 1603.6,661.0 1604.5,663.3 1605.4,662.9 1606.3,662.1 1607.2,660.4 1608.1,661.2 1609.0,659.3 1609.9,660.8 1610.8,663.2 1611.7,663.8 1612.6,661.7 1613.5,663.4 1614.4,665.3 1615.3,664.0 1616.2,663.8 1617.1,665.2 1618.0,665.5 1618.9,665.4 1619.8,665.1 1620.7,665.6 1621.6,666.6 1622.5,666.2 1623.4,668.7 1624.3,668.6 1625.2,669.1 1626.1,670.5 1627.0,670.3 1627.9,670.4 1628.8,669.5 1629.7,669.2 1630.6,672.2 1631.5,669.2 1632.4,669.5 1633.3,669.6 1634.2,671.1 1635.1,670.9 1636.0,671.1 1636.9,669.3 1637.8,667.2 1638.7,669.0 1639.6,669.3 1640.5,667.8 1641.4,667.3 1642.3,667.7 1643.2,668.3 1644.1,666.3 1645.0,664.4 1645.9,665.0 1646.8,665.1 1647.7,663.0 1648.6,665.5 1649.5,664.2 1650.4,666.3 1651.3,666.5 1652.2,666.5 1653.1,669.3 1654.0,667.5 1654.9,668.0 1655.8,669.1 1656.7,669.6 1657.6,668.5 1658.5,667.3 1659.4,669.0 1660.3,668.8 1661.2,670.3 1662.1,667.6 1663.0,668.0 1663.9,667.5 1664.8,667.2 1665.7,669.6 1666.6,671.1 1667.5,669.7 1668.4,670.8 1669.3,670.9 1670.2,674.4 1671.1,672.8 1672.0,674.9 1672.9,673.9 1673.8,673.9 1674.7,672.0 1675.6,668.9 1676.5,671.0 1677.4,671.7 1678.3,668.9 1679.2,671.3 1680.1,671.2 1681.0,670.6 1681.9,671.7 1682.8,670.0 1683.7,672.7 1684.6,674.1 1685.5,672.1 1686.4,674.1 1687.3,676.4 1688.2,675.6 1689.1,675.6 1690.0,675.8 1690.9,677.7 1691.8,678.0 1692.7,679.2 1693.6,676.8 1694.5,679.6 1695.4,677.9 1696.3,679.0 1697.2,677.4 1698.1,676.7 1699.0,677.5 1699.9,677.0 1700.8,677.5 1701.7,678.4 1702.6,678.6 1703.5,677.3 1704.4,676.2 1705.3,676.1 1706.2,677.0 1707.1,677.3 1708.0,675.4 1708.9,675.6 1709.8,675.1 1710.7,676.4 1711.6,677.4 1712.5,673.2 1713.4,677.0 1714.3,676.3 1715.2,674.5 1716.1,677.6 1717.0,677.2 1717.9,677.7 1718.8,675.8 1719.7,679.7 1720.6,677.5 1721.5,677.0 1722.4,679.0 1723.3,678.1 1724.2,678.3 1725.1,678.4 1726.0,674.5 1726.9,678.3 1727.8,675.7 1728.7,676.1 1729.6,676.5 1730.5,674.3 1731.4,675.1 1732.3,675.3 1733.2,674.1 1734.1,674.3 1735.0,672.4 1735.9,673.4 1736.8,674.0 1737.7,676.3 1738.6,680.6 1739.5,677.3 1740.4,677.4 1741.3,678.1 1742.2,679.8 1743.1,680.0 1744.0,678.4 1744.9,680.7 1745.8,679.4 1746.7,680.1 1747.6,676.8 1748.5,677.1 1749.4,679.4 1750.3,676.5 1751.2,679.6 1752.1,680.2 1753.0,680.6 1753.9,681.5 1754.8,682.0 1755.7,682.8 1756.6,682.5 1757.5,683.6 1758.4,687.5 1759.3,686.2 1760.2,686.2 1761.1,686.6 1762.0,686.0 1762.9,687.7 1763.8,687.6 1764.7,689.3 1765.6,687.5 1766.5,686.2 1767.4,688.6 1768.3,690.3 1769.2,692.6 1770.1,691.3 1771.0,689.4 1771.9,690.2 1772.8,689.2 1773.7,689.8 1774.6,688.8 1775.5,687.7 1776.4,689.9 1777.3,689.4 1778.2,688.8 1779.1,689.1 1780.0,691.0 1780.9,689.1 1781.8,688.7 1782.7,690.2 1783.6,687.6 1784.5,690.4 1785.4,688.9 1786.3,689.0 1787.2,690.2 1788.1,691.7 1789.0,688.7 1789.9,690.2 1790.8,689.2 1791.7,686.9 1792.6,689.1 1793.5,686.8 1794.4,685.8 1795.3,686.2 1796.2,686.4 1797.1,688.1 1798.0,686.9 1798.9,689.7 1799.8,688.5 1800.7,687.7 1801.6,687.9 1802.5,689.3 1803.4,687.1 1804.3,686.9 1805.2,688.2 1806.1,689.9 1807.0,689.3 1807.9,689.0 1808.8,688.7 1809.7,686.4 1810.6,688.4 1811.5,686.7 1812.4,689.9 1813.3,689.4 1814.2,689.6 1815.1,690.6 1816.0,690.9 1816.9,691.2 1817.8,691.7 1818.7,691.0 1819.6,690.6 1820.5,692.8 1821.4,694.4 1822.3,694.3 1823.2,693.3 1824.1,694.4 1825.0,693.4 1825.9,694.4 1826.8,693.5 1827.7,694.5 1828.6,696.7 1829.5,695.5 1830.4,696.5 1831.3,694.3 1832.2,695.0 1833.1,696.3 1834.0,697.6 1834.9,697.3 1835.8,699.3 1836.7,698.1 1837.6,700.9 1838.5,701.1 1839.4,699.3 1840.3,701.8 1841.2,701.5 1842.1,703.4 1843.0,702.3 1843.9,703.8 1844.8,704.6 1845.7,701.4 1846.6,703.0 1847.5,705.8 1848.4,706.0 1849.3,707.9 1850.2,707.5 1851.1,706.4 1852.0,708.8 1852.9,708.1 1853.8,709.2 1854.7,709.5 1855.6,710.4 1856.5,707.7 1857.4,707.2 1858.3,705.2 1859.2,709.4 1860.1,705.2 1861.0,706.4 1861.9,707.1 1862.8,708.7 1863.7,710.0 1864.6,712.2 1865.5,711.6 1866.4,711.3 1867.3,709.7 1868.2,709.8 1869.1,710.7 1870.0,708.8 1870.9,708.7 1871.8,705.6 1872.7,707.9 1873.6,707.1 1874.5,707.7 1875.4,703.5 1876.3,706.9 1877.2,707.1 1878.1,707.7 1879.0,707.2 1879.9,708.5 1880.8,709.4 1881.7,709.6 1882.6,710.3 1883.5,711.5 1884.4,712.4 1885.3,714.0 1886.2,714.2 1887.1,713.9 1888.0,718.0 1888.9,714.4 1889.8,716.1 1890.7,714.6 1891.6,715.6 1892.5,714.8 1893.4,715.6 1894.3,714.6 1895.2,714.0 1896.1,715.6 1897.0,716.6 1897.9,715.7 1898.8,715.8 1899.7,714.7 1900.6,716.1 1901.5,716.9 1902.4,716.0 1903.3,718.0 1904.2,716.9 1905.1,717.1 1906.0,715.9 1906.9,715.7 1907.8,716.3 1908.7,716.3 1909.6,716.0 1910.5,714.3 1911.4,714.4 1912.3,715.2 1913.2,713.4 1914.1,716.8 1915.0,716.2 1915.9,716.1 1916.8,715.4 1917.7,717.3 1918.6,716.3 1919.5,718.9 1920.4,717.4 1921.3,715.5 1922.2,718.2 1923.1,716.8 1924.0,716.1 1924.9,715.8 1925.8,715.2 1926.7,715.0 1927.6,714.9 1928.5,713.9 1929.4,711.9 1930.3,711.5 1931.2,712.3 1932.1,713.9 1933.0,714.7 1933.9,716.1 1934.8,713.2 1935.7,715.6 1936.6,716.1 1937.5,716.8 1938.4,718.2 1939.3,718.6 1940.2,719.4 1941.1,719.9 1942.0,721.9 1942.9,723.5 1943.8,725.0 1944.7,723.4 1945.6,723.6 1946.5,724.8 1947.4,724.5 1948.3,727.0 1949.2,725.3 1950.1,726.6 1951.0,725.4 1951.9,726.8 1952.8,727.8 1953.7,729.5 1954.6,726.7 1955.5,727.6 1956.4,724.5 1957.3,725.1 1958.2,725.2 1959.1,725.3 1960.0,726.0 1960.9,726.8 1961.8,725.0 1962.7,728.0 1963.6,726.9 1964.5,730.8 1965.4,729.2 1966.3,728.7 1967.2,728.0 1968.1,727.8 1969.0,727.4 1969.9,726.4 1970.8,728.4 1971.7,728.2 1972.6,729.1 1973.5,728.5 1974.4,729.7 1975.3,728.4 1976.2,733.6 1977.1,729.5 1978.0,730.6 1978.9,732.9 1979.8,733.9 1980.7,732.4 1981.6,732.2 1982.5,733.2 1983.4,734.4 1984.3,735.4 1985.2,736.8 1986.1,738.8 1987.0,739.2 1987.9,737.7 1988.8,739.4 1989.7,740.2 1990.6,741.2 1991.5,739.9 1992.4,739.6 1993.3,741.7 1994.2,742.7 1995.1,739.9 1996.0,742.2 1996.9,741.4 1997.8,738.7 1998.7,736.8 1999.6,737.4 2000.5,737.2 2001.4,737.7 2002.3,734.8 2003.2,739.1 2004.1,738.6 2005.0,734.9 2005.9,733.3 2006.8,734.9 2007.7,735.2 2008.6,735.9 2009.5,734.9 2010.4,733.9 2011.3,732.4 2012.2,735.7 2013.1,736.7 2014.0,735.9 2014.9,737.1 2015.8,736.9 2016.7,736.2 2017.6,735.1 2018.5,736.6 2019.4,734.5 2020.3,737.5 2021.2,734.8 2022.1,736.8 2023.0,735.8 2023.9,737.5 2024.8,737.3 2025.7,738.6 2026.6,737.6 2027.5,737.1 2028.4,739.1 2029.3,739.5 2030.2,738.7 2031.1,740.1 2032.0,739.6 2032.9,742.1 2033.8,742.1 2034.7,743.1 2035.6,746.5 2036.5,744.3 2037.4,745.1 2038.3,744.8 2039.2,743.3 2040.1,742.1 2041.0,743.1 2041.9,742.6 2042.8,737.8 2043.7,740.8 2044.6,740.6 2045.5,740.3 2046.4,742.3 2047.3,740.2 2048.2,741.7 2049.1,740.1 2050.0,740.2 2050.9,741.5 2051.8,740.0 2052.7,740.8 2053.6,739.9 2054.5,740.3 2055.4,742.2 2056.3,742.2 2057.2,740.1 2058.1,739.6 2059.0,743.3 2059.9,739.3 2060.8,738.6 2061.7,739.7 2062.6,737.8 2063.5,737.8 2064.4,738.7 2065.3,739.0 2066.2,738.4 2067.1,740.9 2068.0,740.0 2068.9,740.6 2069.8,741.6 2070.7,741.1 2071.6,741.9 2072.5,741.4 2073.4,740.1 2074.3,741.0 2075.2,740.0 2076.1,739.8 2077.0,740.2 2077.9,741.3 2078.8,740.3 2079.7,741.3 2080.6,741.7 2081.5,740.0 2082.4,739.4 2083.3,739.3 2084.2,740.6 2085.1,741.3 2086.0,742.2 2086.9,739.0 2087.8,741.6 2088.7,741.8 2089.6,743.6 2090.5,741.6 2091.4,741.8 2092.3,740.6 2093.2,741.9 2094.1,742.0 2095.0,742.6 2095.9,742.7 2096.8,741.4 2097.7,742.4 2098.6,742.3 2099.5,742.1 2100.4,740.5 2101.3,741.1"/>
<polyline stroke="#ff0000" points="313.0,1316.1 313.9,1313.1 314.8,1314.1 315.7,1314.9 316.6,1313.3 317.5,1314.7 318.4,1314.9 319.3,1312.5 320.2,1316.9 321.1,1316.5 322.0,1314.9 322.9,1315.8 323.8,1318.2 324.7,1318.8 325.6,1320.5 326.5,1320.3 327.4,1325.0 328.3,1324.8 329.2,1325.4 330.1,1323.1 331.0,1328.2 331.9,1326.4 332.8,1326.0 333.7,1330.0 334.6,1327.2 335.5,1325.5 336.4,1327.5 337.3,1325.0 338.2,1329.6 339.1,1326.7 340.0,1325.6 340.9,1327.6 341.8,1322.9 342.7,1325.5 343.6,1320.8 344.5,1322.0 345.4,1320.3 346.3,1323.4 347.2,1323.0 348.1,1318.9 349.0,1319.8 349.9,1317.3 350.8,1317.6 351.7,1314.7 352.6,1312.8 353.5,1312.4 354.4,1315.3 355.3,1317.8 356.2,1314.6 357.1,1313.1 358.0,1316.4 358.9,1313.6 359.8,1313.1 360.7,1313.0 361.6,1312.2 362.5,1311.6 363.4,1309.6 364.3,1312.2 365.2,1311.0 366.1,1312.4 367.0,1309.5 367.9,1306.7 368.8,1308.9 369.7,1311.1 370.6,1307.5 371.5,1306.2 372.4,1305.2 373.3,1304.9 374.2,1304.5 375.1,1301.2 376.0,1303.2 376.9,1298.5 377.8,1297.1 378.7,1297.1 379.6,1295.2 380.5,1290.6 381.4,1289.4 382.3,1288.0 383.2,1284.6 384.1,1280.6 385.0,1283.2 385.9,1282.4 386.8,1280.6 387.7,1277.4 388.6,1277.4 389.5,1275.7 390.4,1275.0 391.3,1276.3 392.2,1275.5 393.1,1273.1 394.0,1271.8 394.9,1270.8 395.8,1269.0 396.7,1268.2 397.6,1266.6 398.5,1266.9 399.4,1269.7 400.3,1266.9 401.2,1264.0 402.1,1261.3 403.0,1258.1 403.9,1257.5 404.8,1255.0 405.7,1250.7 406.6,1253.4 407.5,1251.5 408.4,1254.3 409.3,1252.2 410.2,1254.3 411.1,1250.7 412.0,1250.8 412.9,1251.4 413.8,1252.3 414.7,1248.6 415.6,1242.3 416.5,1240.8 417.4,1238.2 418.3,1235.8 419.2,1233.8 420.1,1235.8 421.0,1230.9 421.9,1228.6 422.8,1229.2 423.7,1226.8 424.6,1224.8 425.5,1224.4 426.4,1223.6 427.3,1222.9 428.2,1223.4 429.1,1221.9 430.0,1220.1 430.9,1220.0 431.8,1218.9 432.7,1218.9 433.6,1215.8 434.5,1213.5 435.4,1215.2 436.3,1211.9 437.2,1209.8 438.1,1212.2 439.0,1209.4 439.9,1210.0 440.8,1207.3 441.7,1205.1 442.6,1203.2 443.5,1202.7 444.4,1201.4 445.3,1198.9 446.2,1198.0 447.1,1194.4 448.0,1195.1 448.9,1190.7 449.8,1191.4 450.7,1191.1 451.6,1190.2 452.5,1190.6 453.4,1185.2 454.3,1188.1 455.2,1188.2 456.1,1187.3 457.0,1183.9 457.9,1185.4 458.8,1186.7 459.7,1179.0 460.6,1179.3 461.5,1177.5 462.4,1173.6 463.3,1174.4 464.2,1170.8 465.1,1170.0 466.0,1168.9 466.9,1169.3 467.8,1167.7 468.7,1168.2 469.6,1164.2 470.5,1164.3 471.4,1164.8 472.3,1163.1 473.2,1159.2 474.1,1161.7 475.0,1159.6 475.9,1160.4 476.8,1159.8 477.7,1160.8 478.6,1158.7 479.5,1155.3 480.4,1155.5 481.3,1158.2 482.2,1156.4 483.1,1158.4 484.0,1156.9 484.9,1155.2 485.8,1157.7 486.7,1154.7 487.6,1152.7 488.5,1158.7 489.4,1152.0 490.3,1154.6 491.2,1153.8 492.1,1151.3 493.0,1147.3 493.9,1150.1 494.8,1145.1 495.7,1144.0 496.6,1145.0 497.5,1146.9 498.4,1146.4 499.3,1147.4 500.2,1145.8 501.1,1146.4 502.0,1145.2 502.9,1146.7 503.8,1148.3 504.7,1147.2 505.6,1148.0 506.5,1145.9 507.4,1145.3 508.3,1145.8 509.2,1144.9 510.1,1145.5 511.0,1144.4 511.9,1146.2 512.8,1142.8 513.7,1142.2 514.6,1140.5 515.5,1141.6 516.4,1142.1 517.3,1139.9 518.2,1141.0 519.1,1142.1 520.0,1140.9 520.9,1140.3 521.8,1142.5 522.7,1141.2 523.6,1141.7 524.5,1142.8 525.4,1142.8 526.3,1140.5 527.2,1140.3 528.1,1141.6 529.0,1141.6 529.9,1139.5 530.8,1144.9 531.7,1143.6 532.6,1145.3 533.5,1143.0 534.4,1147.3 535.3,1145.1 536.2,1146.4 537.1,1144.2 538.0,1145.1 538.9,1144.1 539.8,1143.3 540.7,1143.3 541.6,1141.9 542.5,1142.5 543.4,1140.4 544.3,1139.6 545.2,1141.0 546.1,1142.0 547.0,1142.9 547.9,1142.3 548.8,1138.4 549.7,1141.5 550.6,1142.4 551.5,1139.6 552.4,1138.0 553.3,1138.5 554.2,1136.6 555.1,1137.6 556.0,1135.9 556.9,1137.4 557.8,1136.1 558.7,1134.3 559.6,1136.4 560.5,1137.0 561.4,1134.8 562.3,1135.1 563.2,1132.3 564.1,1137.2 565.0,1135.0 565.9,1132.8 566.8,1133.4 567.7,1135.8 568.6,1137.1 569.5,1135.3 570.4,1135.6 571.3,1132.8 572.2,1131.9 573.1,1134.7 574.0,1133.6 574.9,1132.3 575.8,1133.7 576.7,1129.9 577.6,1130.1 578.5,1131.8 579.4,1132.5 580.3,1129.2 581.2,1131.2 582.1,1127.8 583.0,1129.3 583.9,1128.7 584.8,1126.6 585.7,1129.5 586.6,1130.6 587.5,1129.1 588.4,1129.3 589.3,1131.5 590.2,1127.1 591.1,1124.9 592.0,1124.4 592.9,1121.8 593.8,1123.8 594.7,1121.1 595.6,1118.9 596.5,1118.8 597.4,1123.6 598.3,1117.9 599.2,1117.2 600.1,1118.4 601.0,1118.4 601.9,1117.4 602.8,1115.2 603.7,1112.7 604.6,1112.9 605.5,1109.5 606.4,1104.8 607.3,1106.6 608.2,1104.5 609.1,1101.4 610.0,1099.8 610.9,1098.9 611.8,1096.0 612.7,1093.4 613.6,1094.7 614.5,1091.0 615.4,1092.7 616.3,1088.9 617.2,1089.9 618.1,1088.8 619.0,1090.6 619.9,1085.3 620.8,1083.7 621.7,1083.8 622.6,1082.6 623.5,1083.0 624.4,1084.1 625.3,1084.1 626.2,1085.0 627.1,1081.0 628.0,1084.4 628.9,1081.2 629.8,1075.7 630.7,1070.3 631.6,1071.4 632.5,1069.3 633.4,1064.1 634.3,1067.6 635.2,1067.2 636.1,1066.3 637.0,1068.4 637.9,1069.0 638.8,1066.8 639.7,1065.2 640.6,1060.6 641.5,1057.2 642.4,1055.2 643.3,1052.7 644.2,1047.8 645.1,1042.1 646.0,1043.0 646.9,1038.6 647.8,1040.6 648.7,1042.4 649.6,1039.1 650.5,1036.7 651.4,1035.6 652.3,1038.9 653.2,1036.5 654.1,1036.7 655.0,1036.6 655.9,1034.5 656.8,1032.5 657.7,1029.2 658.6,1023.7 659.5,1023.7 660.4,1023.6 661.3,1021.1 662.2,1019.7 663.1,1016.6 664.0,1014.7 664.9,1013.3 665.8,1008.5 666.7,1007.6 667.6,1004.9 668.5,1008.0 669.4,1005.8 670.3,1005.7 671.2,1006.4 672.1,1005.0 673.0,1002.5 673.9,1003.0 674.8,998.8 675.7,1000.8 676.6,999.6 677.5,996.2 678.4,998.5 679.3,992.3 680.2,991.3 681.1,987.2 682.0,988.5 682.9,988.0 683.8,983.9 684.7,982.0 685.6,983.2 686.5,983.7 687.4,980.6 688.3,978.9 689.2,979.2 690.1,972.9 691.0,974.7 691.9,972.3 692.8,973.6 693.7,970.9 694.6,969.2 695.5,969.3 696.4,966.5 697.3,967.5 698.2,965.4 699.1,964.9 700.0,963.5 700.9,965.0 701.8,962.5 702.7,962.5 703.6,961.5 704.5,958.6 705.4,959.7 706.3,958.4 707.2,957.4 708.1,955.4 709.0,954.4 709.9,955.7 710.8,957.9 711.7,953.6 712.6,955.8 713.5,954.6 714.4,956.6 715.3,956.2 716.2,955.7 717.1,948.2 718.0,949.9 718.9,947.6 719.8,947.3 720.7,944.7 721.6,943.5 722.5,944.6 723.4,945.5 724.3,937.5 725.2,940.4 726.1,940.4 727.0,939.1 727.9,937.7 728.8,935.2 729.7,935.0 730.6,935.4 731.5,933.7 732.4,930.0 733.3,927.9 734.2,929.6 735.1,929.3 736.0,930.7 736.9,930.3 737.8,929.4 738.7,930.5 739.6,927.2 740.5,929.0 741.4,928.3 742.3,923.5 743.2,924.7 744.1,921.3 745.0,923.2 745.9,921.7 746.8,918.8 747.7,919.4 748.6,916.0 749.5,914.5 750.4,913.4 751.3,912.8 752.2,911.3 753.1,910.8 754.0,908.4 754.9,909.9 755.8,910.2 756.7,907.8 757.6,906.3 758.5,909.5 759.4,910.0 760.3,907.9 761.2,906.2 762.1,908.4 763.0,910.2 763.9,905.0 764.8,908.4 765.7,907.1 766.6,906.2 767.5,908.0 768.4,904.7 769.3,906.4 770.2,907.2 771.1,904.8 772.0,902.6 772.9,900.6 773.8,901.4 774.7,900.8 775.6,906.2 776.5,903.7 777.4,902.8 778.3,902.7 779.2,903.3 780.1,904.7 781.0,903.5 781.9,908.2 782.8,904.9 783.7,905.1 784.6,907.0 785.5,909.0 786.4,909.1 787.3,906.6 788.2,909.1 789.1,910.8 790.0,913.2 790.9,912.3 791.8,908.3 792.7,905.5 793.6,905.4 794.5,901.2 795.4,902.7 796.3,898.9 797.2,897.6 798.1,898.9 799.0,898.9 799.9,899.8 800.8,901.7 801.7,898.4 802.6,898.1 803.5,901.7 804.4,901.2 805.3,901.5 806.2,901.3 807.1,899.7 808.0,900.5 808.9,897.2 809.8,898.0 810.7,896.0 811.6,894.9 812.5,896.8 813.4,896.1 814.3,891.6 815.2,892.2 816.1,893.6 817.0,895.9 817.9,895.1 818.8,897.6 819.7,896.7 820.6,902.8 821.5,899.9 822.4,900.7 823.3,900.5 824.2,901.1 825.1,900.8 826.0,899.6 826.9,901.4 827.8,900.6 828.7,902.6 829.6,899.9 830.5,901.0 831.4,903.5 832.3,905.2 833.2,904.3 834.1,903.8 835.0,905.5 835.9,905.7 836.8,910.1 837.7,909.4 838.6,909.9 839.5,908.1 840.4,906.5 841.3,908.7 842.2,909.1 843.1,907.1 844.0,906.0 844.9,908.0 845.8,906.1 846.7,908.1 847.6,906.2 848.5,906.1 849.4,908.7 850.3,908.6 851.2,911.3 852.1,908.3 853.0,909.7 853.9,909.2 854.8,909.4 855.7,910.8 856.6,915.4 857.5,914.2 858.4,918.9 859.3,920.6 860.2,918.2 861.1,920.7 862.0,918.1 862.9,919.0 863.8,916.5 864.7,917.8 865.6,914.5 866.5,916.4 867.4,914.4 868.3,914.4 869.2,916.3 870.1,916.4 871.0,916.8 871.9,918.8 872.8,919.7 873.7,917.2 874.6,920.9 875.5,921.8 876.4,920.4 877.3,922.9 878.2,921.1 879.1,926.1 880.0,924.3 880.9,924.4 881.8,926.1 882.7,923.8 883.6,924.7 884.5,922.0 885.4,922.5 886.3,921.3 887.2,923.3 888.1,925.3 889.0,924.4 889.9,925.9 890.8,923.5 891.7,924.2 892.6,925.3 893.5,927.0 894.4,926.7 895.3,926.1 896.2,926.2 897.1,923.4 898.0,923.2 898.9,925.1 899.8,922.2 900.7,923.3 901.6,925.3 902.5,923.0 903.4,923.8 904.3,921.8 905.2,926.7 906.1,921.8 907.0,924.9 907.9,926.5 908.8,931.9 909.7,931.5 910.6,931.5 911.5,929.9 912.4,932.3 913.3,931.9 914.2,930.6 915.1,929.3 916.0,929.8 916.9,931.7 917.8,931.9 918.7,932.0 919.6,932.1 920.5,930.2 921.4,933.3 922.3,932.1 923.2,934.2 924.1,935.3 925.0,934.0 925.9,933.9 926.8,937.4 927.7,936.9 928.6,935.8 929.5,932.7 930.4,937.6 931.3,938.4 932.2,938.9 933.1,936.0 934.0,935.8 934.9,935.9 935.8,937.5 936.7,934.3 937.6,935.6 938.5,934.2 939.4,935.9 940.3,933.5 941.2,936.7 942.1,935.7 943.0,936.5 943.9,937.9 944.8,939.2 945.7,935.3 946.6,939.7 947.5,939.3 948.4,938.4 949.3,941.3 950.2,940.5 951.1,943.2 952.0,941.5 952.9,942.1 953.8,946.3 954.7,948.7 955.6,947.5 956.5,948.9 957.4,947.9 958.3,947.5 959.2,949.8 960.1,953.1 961.0,948.7 961.9,951.4 962.8,949.9 963.7,953.6 964.6,955.4 965.5,952.3 966.4,953.0 967.3,955.0 968.2,952.3 969.1,950.0 970.0,949.3 970.9,947.7 971.8,951.3 972.7,948.7 973.6,951.5 974.5,951.4 975.4,949.2 976.3,949.5 977.2,951.6 978.1,950.7 979.0,951.0 979.9,948.4 980.8,952.8 981.7,950.8 982.6,949.3 983.5,952.3 984.4,954.5 985.3,957.6 986.2,952.9 987.1,950.5 988.0,954.7 988.9,950.8 989.8,949.6 990.7,949.4 991.6,950.6 992.5,955.3 993.4,953.7 994.3,954.4 995.2,955.4 996.1,959.0 997.0,955.9 997.9,958.0 998.8,957.6 999.7,957.8 1000.6,956.3 1001.5,958.9 1002.4,960.5 1003.3,958.2 1004.2,957.3 1005.1,958.3 1006.0,962.1 1006.9,963.0 1007.8,964.8 1008.7,965.9 1009.6,963.3 1010.5,966.3 1011.4,965.1 1012.3,964.3 1013.2,964.4 1014.1,965.1 1015.0,964.5 1015.9,963.9 1016.8,967.7 1017.7,966.1 1018.6,966.5 1019.5,966.0 1020.4,969.2 1021.3,968.4 1022.2,970.1 1023.1,972.5 1024.0,972.8 1024.9,975.2 1025.8,975.1 1026.7,974.9 1027.6,976.0 1028.5,976.7 1029.4,978.4 1030.3,977.4 1031.2,976.6 1032.1,978.4 1033.0,977.2 1033.9,976.3 1034.8,974.6 1035.7,977.4 1036.6,977.1 1037.5,976.9 1038.4,976.8 1039.3,976.8 1040.2,978.3 1041.1,979.6 1042.0,979.7 1042.9,980.3 1043.8,980.4 1044.7,981.9 1045.6,981.2 1046.5,979.3 1047.4,981.0 1048.3,980.6 1049.2,980.1 1050.1,978.2 1051.0,977.6 1051.9,976.0 1052.8,979.6 1053.7,976.0 1054.6,979.4 1055.5,980.3 1056.4,982.8 1057.3,982.3 1058.2,980.9 1059.1,980.1 1060.0,981.1 1060.9,982.3 1061.8,982.1 1062.7,981.7 1063.6,980.8 1064.5,981.5 1065.4,983.2 1066.3,980.0 1067.2,981.6 1068.1,984.7 1069.0,984.3 1069.9,984.0 1070.8,986.9 1071.7,985.9 1072.6,988.3 1073.5,991.8 1074.4,993.5 1075.3,988.5 1076.2,992.1 1077.1,994.0 1078.0,990.2 1078.9,991.4 1079.8,993.3 1080.7,990.3 1081.6,991.7 1082.5,991.4 1083.4,989.3 1084.3,993.3 1085.2,993.2 1086.1,995.6 1087.0,998.0 1087.9,996.6 1088.8,995.6 1089.7,997.6 1090.6,997.9 1091.5,999.8 1092.4,996.7 1093.3,997.8 1094.2,997.0 1095.1,1001.4 1096.0,1000.8 1096.9,1000.3 1097.8,1000.6 1098.7,1001.3 1099.6,1001.1 1100.5,1002.5 1101.4,1002.6 1102.3,1005.9 1103.2,1004.7 1104.1,1003.4 1105.0,1004.1 1105.9,1007.2 1106.8,1006.5 1107.7,1006.7 1108.6,1007.2 1109.5,1008.2 1110.4,1003.8 1111.3,1004.2 1112.2,1002.4 1113.1,1005.5 1114.0,1004.4 1114.9,1005.1 1115.8,1006.0 1116.7,1009.3 1117.6,1009.1 1118.5,1009.6 1119.4,1013.4 1120.3,1011.0 1121.2,1011.2 1122.1,1016.7 1123.0,1011.9 1123.9,1011.2 1124.8,1010.6 1125.7,1011.1 1126.6,1012.2 1127.5,1011.8 1128.4,1011.5 1129.3,1011.3 1130.2,1010.5 1131.1,1014.2 1132.0,1017.0 1132.9,1017.4 1133.8,1016.5 1134.7,1019.0 1135.6,1018.1 1136.5,1019.3 1137.4,1018.1 1138.3,1020.2 1139.2,1021.5 1140.1,1021.7 1141.0,1023.8 1141.9,1026.1 1142.8,1025.9 1143.7,1024.2 1144.6,1024.8 1145.5,1026.4 1146.4,1027.4 1147.3,1030.4 1148.2,1032.4 1149.1,1033.6 1150.0,1034.7 1150.9,1035.0 1151.8,1034.9 1152.7,1034.3 1153.6,1038.4 1154.5,1037.7 1155.4,1035.1 1156.3,1035.4 1157.2,1036.2 1158.1,1037.5 1159.0,1039.7 1159.9,1039.7 1160.8,1040.1 1161.7,1040.7 1162.6,1041.5 1163.5,1041.7 1164.4,1042.0 1165.3,1041.9 1166.2,1040.3 1167.1,1043.5 1168.0,1047.1 1168.9,1044.4 1169.8,1045.0 1170.7,1048.3 1171.6,1048.1 1172.5,1049.8 1173.4,1055.3 1174.3,1056.3 1175.2,1056.1 1176.1,1053.8 1177.0,1055.0 1177.9,1054.5 1178.8,1054.7 1179.7,1054.9 1180.6,1054.5 1181.5,1052.8 1182.4,1055.0 1183.3,1053.7 1184.2,1057.8 1185.1,1059.3 1186.0,1059.2 1186.9,1060.0 1187.8,1062.2 1188.7,1061.4 1189.6,1064.6 1190.5,1065.4 1191.4,1064.5 1192.3,1066.9 1193.2,1069.3 1194.1,1070.2 1195.0,1071.0 1195.9,1070.2 1196.8,1070.8 1197.7,1071.6 1198.6,1074.0 1199.5,1077.5 1200.4,1077.0 1201.3,1078.2 1202.2,1078.7 1203.1,1075.2 1204.0,1078.2 1204.9,1078.1 1205.8,1079.9 1206.7,1079.8 1207.6,1075.6 1208.5,1075.9 1209.4,1077.0 1210.3,1076.5 1211.2,1077.3 1212.1,1078.2 1213.0,1081.6 1213.9,1079.9 1214.8,1084.0 1215.7,1083.5 1216.6,1085.5 1217.5,1087.7 1218.4,1084.3 1219.3,1083.9 1220.2,1085.7 1221.1,1083.4 1222.0,1083.7 1222.9,1084.5 1223.8,1084.8 1224.7,1082.6 1225.6,1083.7 1226.5,1085.6 1227.4,1088.1 1228.3,1084.4 1229.2,1090.7 1230.1,1091.4 1231.0,1089.8 1231.9,1090.5 1232.8,1094.7 1233.7,1094.4 1234.6,1095.7 1235.5,1097.3 1236.4,1095.9 1237.3,1097.2 1238.2,1098.1 1239.1,1099.2 1240.0,1101.0 1240.9,1101.1 1241.8,1098.5 1242.7,1097.5 1243.6,1101.0 1244.5,1098.0 1245.4,1097.4 1246.3,1094.7 1247.2,1098.7 1248.1,1097.6 1249.0,1099.4 1249.9,1099.3 1250.8,1101.8 1251.7,1103.9 1252.6,1102.8 1253.5,1105.0 1254.4,1107.5 1255.3,1106.4 1256.2,1105.9 1257.1,1105.9 1258.0,1104.5 1258.9,1106.9 1259.8,1104.0 1260.7,1106.0 1261.6,1105.7 1262.5,1102.0 1263.4,1103.3 1264.3,1101.9 1265.2,1100.5 1266.1,1102.8 1267.0,1104.0 1267.9,1106.5 1268.8,1108.1 1269.7,1106.0 1270.6,1108.1 1271.5,1110.6 1272.4,1112.6 1273.3,1107.5 1274.2,1113.4 1275.1,1111.6 1276.0,1114.5 1276.9,1112.0 1277.8,1111.7 1278.7,1112.9 1279.6,1114.2 1280.5,1112.2 1281.4,1108.2 1282.3,1112.4 1283.2,1108.6 1284.1,1109.2 1285.0,1108.6 1285.9,1108.1 1286.8,1109.9 1287.7,1111.3 1288.6,1112.8 1289.5,1114.6 1290.4,1115.1 1291.3,1114.4 1292.2,1117.3 1293.1,1120.0 1294.0,1120.9 1294.9,1120.1 1295.8,1121.3 1296.7,1122.1 1297.6,1123.3 1298.5,1124.2 1299.4,1121.7 1300.3,1122.2 1301.2,1125.3 1302.1,1125.8 1303.0,1126.1 1303.9,1120.2 1304.8,1123.4 1305.7,1118.9 1306.6,1124.8 1307.5,1123.8 1308.4,1123.8 1309.3,1124.7 1310.2,1128.0 1311.1,1126.7 1312.0,1129.8 1312.9,1130.2 1313.8,1131.1 1314.7,1131.3 1315.6,1130.2 1316.5,1127.8 1317.4,1129.9 1318.3,1129.3 1319.2,1128.8 1320.1,1131.2 1321.0,1132.6 1321.9,1130.4 1322.8,1133.3 1323.7,1133.9 1324.6,1133.7 1325.5,1135.1 1326.4,1132.8 1327.3,1132.9 1328.2,1133.4 1329.1,1133.1 1330.0,1132.5 1330.9,1134.9 1331.8,1130.3 1332.7,1130.9 1333.6,1129.0 1334.5,1132.0 1335.4,1133.5 1336.3,1134.1 1337.2,1131.8 1338.1,1132.8 1339.0,1135.6 1339.9,1134.1 1340.8,1136.2 1341.7,1133.8 1342.6,1137.8 1343.5,1137.8 1344.4,1137.4 1345.3,1135.7 1346.2,1136.8 1347.1,1137.4 1348.0,1137.7 1348.9,1137.3 1349.8,1137.3 1350.7,1138.1 1351.6,1140.0 1352.5,1135.1 1353.4,1136.4 1354.3,1137.1 1355.2,1139.2 1356.1,1138.6 1357.0,1142.9 1357.9,1143.1 1358.8,1143.5 1359.7,1143.8 1360.6,1145.9 1361.5,1146.8 1362.4,1148.5 1363.3,1148.4 1364.2,1152.1 1365.1,1150.5 1366.0,1156.1 1366.9,1151.2 1367.8,1156.2 1368.7,1155.7 1369.6,1159.1 1370.5,1156.2 1371.4,1161.6 1372.3,1157.0 1373.2,1162.8 1374.1,1160.9 1375.0,1160.7 1375.9,1161.8 1376.8,1164.2 1377.7,1161.9 1378.6,1156.8 1379.5,1161.5 1380.4,1159.6 1381.3,1158.4 1382.2,1163.8 1383.1,1162.6 1384.0,1166.5 1384.9,1168.0 1385.8,1164.4 1386.7,1164.0 1387.6,1159.1 1388.5,1161.4 1389.4,1161.1 1390.3,1162.5 1391.2,1166.5 1392.1,1164.6 1393.0,1163.7 1393.9,1166.0 1394.8,1165.8 1395.7,1167.9 1396.6,1168.9 1397.5,1169.7 1398.4,1170.6 1399.3,1170.6 1400.2,1173.0 1401.1,1174.1 1402.0,1171.0 1402.9,1171.2 1403.8,1170.8 1404.7,1171.9 1405.6,1171.1 1406.5,1167.7 1407.4,1168.3 1408.3,1165.6 1409.2,1166.2 1410.1,1167.5 1411.0,1168.3 1411.9,1168.6 1412.8,1166.5 1413.7,1164.8 1414.6,1167.3 1415.5,1166.3 1416.4,1167.0 1417.3,1166.5 1418.2,1167.1 1419.1,1166.9 1420.0,1167.0 1420.9,1164.9 1421.8,1168.5 1422.7,1167.6 1423.6,1169.8 1424.5,1173.9 1425.4,1173.0 1426.3,1172.1 1427.2,1177.4 1428.1,1178.0 1429.0,1178.6 1429.9,1177.5 1430.8,1178.0 1431.7,1177.5 1432.6,1177.1 1433.5,1180.7 1434.4,1177.7 1435.3,1176.9 1436.2,1176.4 1437.1,1179.2 1438.0,1177.2 1438.9,1174.7 1439.8,1174.8 1440.7,1175.9 1441.6,1176.7 1442.5,1173.2 1443.4,1177.3 1444.3,1175.8 1445.2,1175.4 1446.1,1176.1 1447.0,1178.1 1447.9,1179.8 1448.8,1177.7 1449.7,1178.6 1450.6,1176.8 1451.5,1179.0 1452.4,1179.7 1453.3,1176.8 1454.2,1178.9 1455.1,1181.5 1456.0,1178.4 1456.9,1181.1 1457.8,1183.2 1458.7,1180.4 1459.6,1183.0 1460.5,1183.9 1461.4,1185.0 1462.3,1181.7 1463.2,1185.1 1464.1,1183.8 1465.0,1185.0 1465.9,1184.8 1466.8,1183.5 1467.7,1183.6 1468.6,1180.1 1469.5,1180.6 1470.4,1181.8 1471.3,1183.8 1472.2,1186.7 1473.1,1183.6 1474.0,1186.8 1474.9,1186.2 1475.8,1186.8 1476.7,1192.4 1477.6,1191.3 1478.5,1194.3 1479.4,1194.3 1480.3,1191.9 1481.2,1191.2 1482.1,1197.7 1483.0,1194.7 1483.9,1194.3 1484.8,1197.8 1485.7,1197.6 1486.6,1197.1 1487.5,1198.3 1488.4,1199.7 1489.3,1200.0 1490.2,1200.5 1491.1,1198.2 1492.0,1197.7 1492.9,1198.6 1493.8,1197.6 1494.7,1198.3 1495.6,1195.8 1496.5,1196.8 1497.4,1195.9 1498.3,1200.6 1499.2,1197.0 1500.1,1200.1 1501.0,1198.6 1501.9,1200.3 1502.8,1200.8 1503.7,1197.1 1504.6,1199.1 1505.5,1196.7 1506.4,1201.3 1507.3,1198.4 1508.2,1196.6 1509.1,1197.8 1510.0,1200.7 1510.9,1201.8 1511.8,1202.4 1512.7,1200.2 1513.6,1202.1 1514.5,1205.6 1515.4,1203.0 1516.3,1204.5 1517.2,1203.5 1518.1,1202.9 1519.0,1206.2 1519.9,1205.0 1520.8,1204.4 1521.7,1204.3 1522.6,1204.7 1523.5,1205.1 1524.4,1202.6 1525.3,1201.8 1526.2,1200.5 1527.1,1203.3 1528.0,1200.6 1528.9,1198.9 1529.8,1200.7 1530.7,1201.5 1531.6,1203.0 1532.5,1203.6 1533.4,1201.3 1534.3,1201.5 1535.2,1202.5 1536.1,1201.2 1537.0,1202.0 1537.9,1202.0 1538.8,1200.5 1539.7,1197.2 1540.6,1197.0 1541.5,1201.2 1542.4,1198.3 1543.3,1201.6 1544.2,1202.0 1545.1,1201.2 1546.0,1200.8 1546.9,1203.2 1547.8,1202.1 1548.7,1203.8 1549.6,1204.8 1550.5,1204.2 1551.4,1205.5 1552.3,1206.0 1553.2,1205.2 1554.1,1207.4 1555.0,1207.3 1555.9,1205.5 1556.8,1207.6 1557.7,1207.6 1558.6,1207.0 1559.5,1204.7 1560.4,1208.8 1561.3,1208.5 1562.2,1208.3 1563.1,1207.7 1564.0,1205.2 1564.9,1207.1 1565.8,1205.4 1566.7,1209.9 1567.6,1205.8 1568.5,1207.7 1569.4,1204.8 1570.3,1205.9 1571.2,1207.3 1572.1,1209.7 1573.0,1209.9 1573.9,1210.0 1574.8,1207.3 1575.7,1212.2 1576.6,1209.6 1577.5,1213.9 1578.4,1214.6 1579.3,1213.2 1580.2,1213.7 1581.1,1210.5 1582.0,1216.5 1582.9,1213.1 1583.8,1214.5 1584.7,1211.9 1585.6,1213.3 1586.5,1211.9 1587.4,1213.5 1588.3,1213.3 1589.2,1212.9 1590.1,1214.0 1591.0,1211.9 1591.9,1210.9 1592.8,1209.9 1593.7,1212.2 1594.6,1209.1 1595.5,1212.9 1596.4,1209.3 1597.3,1212.0 1598.2,1215.1 1599.1,1215.4 1600.0,1221.3 1600.9,1221.8 1601.8,1216.8 1602.7,1218.6 1603.6,1221.1 1604.5,1224.2 1605.4,1223.5 1606.3,1222.6 1607.2,1220.2 1608.1,1221.3 1609.0,1218.8 1609.9,1220.8 1610.8,1224.0 1611.7,1224.8 1612.6,1221.9 1613.5,1224.3 1614.4,1226.8 1615.3,1225.0 1616.2,1224.8 1617.1,1226.7 1618.0,1227.1 1618.9,1226.9 1619.8,1226.5 1620.7,1227.2 1621.6,1228.5 1622.5,1228.0 1623.4,1231.4 1624.3,1231.2 1625.2,1231.9 1626.1,1233.7 1627.0,1233.4 1627.9,1233.6 1628.8,1232.4 1629.7,1232.0 1630.6,1236.1 1631.5,1232.0 1632.4,1232.5 1633.3,1232.5 1634.2,1234.5 1635.1,1234.3 1636.0,1234.6 1636.9,1232.1 1637.8,1229.3 1638.7,1231.8 1639.6,1232.2 1640.5,1230.2 1641.4,1229.4 1642.3,1230.0 1643.2,1230.8 1644.1,1228.1 1645.0,1225.6 1645.9,1226.4 1646.8,1226.6 1647.7,1223.7 1648.6,1227.0 1649.5,1225.4 1650.4,1228.1 1651.3,1228.4 1652.2,1228.5 1653.1,1232.2 1654.0,1229.7 1654.9,1230.4 1655.8,1231.9 1656.7,1232.6 1657.6,1231.1 1658.5,1229.5 1659.4,1231.8 1660.3,1231.5 1661.2,1233.5 1662.1,1229.9 1663.0,1230.4 1663.9,1229.8 1664.8,1229.3 1665.7,1232.6 1666.6,1234.6 1667.5,1232.7 1668.4,1234.1 1669.3,1234.3 1670.2,1239.0 1671.1,1236.9 1672.0,1239.6 1672.9,1238.4 1673.8,1238.3 1674.7,1235.7 1675.6,1231.6 1676.5,1234.4 1677.4,1235.3 1678.3,1231.7 1679.2,1234.8 1680.1,1234.7 1681.0,1233.9 1681.9,1235.4 1682.8,1233.2 1683.7,1236.7 1684.6,1238.6 1685.5,1235.8 1686.4,1238.5 1687.3,1241.7 1688.2,1240.6 1689.1,1240.6 1690.0,1240.9 1690.9,1243.4 1691.8,1243.8 1692.7,1245.4 1693.6,1242.1 1694.5,1246.0 1695.4,1243.7 1696.3,1245.2 1697.2,1243.0 1698.1,1242.1 1699.0,1243.1 1699.9,1242.5 1700.8,1243.1 1701.7,1244.3 1702.6,1244.6 1703.5,1242.9 1704.4,1241.4 1705.3,1241.2 1706.2,1242.4 1707.1,1242.9 1708.0,1240.3 1708.9,1240.6 1709.8,1239.9 1710.7,1241.6 1711.6,1243.0 1712.5,1237.4 1713.4,1242.4 1714.3,1241.5 1715.2,1239.1 1716.1,1243.3 1717.0,1242.8 1717.9,1243.5 1718.8,1240.9 1719.7,1246.1 1720.6,1243.1 1721.5,1242.4 1722.4,1245.2 1723.3,1243.9 1724.2,1244.2 1725.1,1244.4 1726.0,1239.1 1726.9,1244.2 1727.8,1240.8 1728.7,1241.3 1729.6,1241.8 1730.5,1238.9 1731.4,1240.0 1732.3,1240.2 1733.2,1238.5 1734.1,1238.9 1735.0,1236.3 1735.9,1237.7 1736.8,1238.5 1737.7,1241.5 1738.6,1247.3 1739.5,1242.9 1740.4,1243.0 1741.3,1243.9 1742.2,1246.2 1743.1,1246.5 1744.0,1244.4 1744.9,1247.4 1745.8,1245.6 1746.7,1246.7 1747.6,1242.2 1748.5,1242.7 1749.4,1245.7 1750.3,1241.8 1751.2,1245.9 1752.1,1246.7 1753.0,1247.3 1753.9,1248.4 1754.8,1249.1 1755.7,1250.3 1756.6,1249.8 1757.5,1251.3 1758.4,1256.6 1759.3,1254.7 1760.2,1254.8 1761.1,1255.3 1762.0,1254.5 1762.9,1256.8 1763.8,1256.7 1764.7,1258.9 1765.6,1256.5 1766.5,1254.8 1767.4,1257.9 1768.3,1260.2 1769.2,1263.3 1770.1,1261.6 1771.0,1259.0 1771.9,1260.1 1772.8,1258.8 1773.7,1259.6 1774.6,1258.3 1775.5,1256.9 1776.4,1259.7 1777.3,1259.0 1778.2,1258.2 1779.1,1258.7 1780.0,1261.3 1780.9,1258.6 1781.8,1258.1 1782.7,1260.2 1783.6,1256.6 1784.5,1260.4 1785.4,1258.4 1786.3,1258.5 1787.2,1260.1 1788.1,1262.2 1789.0,1258.1 1789.9,1260.2 1790.8,1258.8 1791.7,1255.7 1792.6,1258.7 1793.5,1255.6 1794.4,1254.2 1795.3,1254.7 1796.2,1255.0 1797.1,1257.3 1798.0,1255.7 1798.9,1259.4 1799.8,1257.9 1800.7,1256.8 1801.6,1257.0 1802.5,1258.9 1803.4,1255.9 1804.3,1255.7 1805.2,1257.5 1806.1,1259.7 1807.0,1258.9 1807.9,1258.6 1808.8,1258.1 1809.7,1255.0 1810.6,1257.7 1811.5,1255.4 1812.4,1259.8 1813.3,1259.0 1814.2,1259.4 1815.1,1260.6 1816.0,1261.0 1816.9,1261.4 1817.8,1262.1 1818.7,1261.2 1819.6,1260.6 1820.5,1263.6 1821.4,1265.8 1822.3,1265.7 1823.2,1264.3 1824.1,1265.7 1825.0,1264.4 1825.9,1265.8 1826.8,1264.5 1827.7,1265.9 1828.6,1268.9 1829.5,1267.3 1830.4,1268.6 1831.3,1265.6 1832.2,1266.5 1833.1,1268.3 1834.0,1270.0 1834.9,1269.7 1835.8,1272.3 1836.7,1270.8 1837.6,1274.4 1838.5,1274.7 1839.4,1272.3 1840.3,1275.7 1841.2,1275.3 1842.1,1277.9 1843.0,1276.3 1843.9,1278.3 1844.8,1279.4 1845.7,1275.2 1846.6,1277.2 1847.5,1281.0 1848.4,1281.3 1849.3,1283.8 1850.2,1283.3 1851.1,1281.8 1852.0,1285.0 1852.9,1284.1 1853.8,1285.6 1854.7,1285.9 1855.6,1287.2 1856.5,1283.5 1857.4,1282.9 1858.3,1280.3 1859.2,1285.8 1860.1,1280.2 1861.0,1281.8 1861.9,1282.7 1862.8,1284.9 1863.7,1286.6 1864.6,1289.5 1865.5,1288.8 1866.4,1288.4 1867.3,1286.3 1868.2,1286.4 1869.1,1287.6 1870.0,1285.1 1870.9,1284.9 1871.8,1280.7 1872.7,1283.8 1873.6,1282.7 1874.5,1283.6 1875.4,1277.9 1876.3,1282.5 1877.2,1282.8 1878.1,1283.5 1879.0,1282.9 1879.9,1284.6 1880.8,1285.8 1881.7,1286.0 1882.6,1287.0 1883.5,1288.6 1884.4,1289.8 1885.3,1292.0 1886.2,1292.3 1887.1,1291.9 1888.0,1297.4 1888.9,1292.5 1889.8,1294.8 1890.7,1292.9 1891.6,1294.2 1892.5,1293.0 1893.4,1294.2 1894.3,1292.8 1895.2,1292.0 1896.1,1294.2 1897.0,1295.5 1897.9,1294.3 1898.8,1294.3 1899.7,1293.0 1900.6,1294.8 1901.5,1295.9 1902.4,1294.6 1903.3,1297.3 1904.2,1295.8 1905.1,1296.1 1906.0,1294.6 1906.9,1294.3 1907.8,1295.1 1908.7,1295.0 1909.6,1294.7 1910.5,1292.3 1911.4,1292.5 1912.3,1293.6 1913.2,1291.1 1914.1,1295.8 1915.0,1294.9 1915.9,1294.8 1916.8,1293.9 1917.7,1296.4 1918.6,1295.1 1919.5,1298.6 1920.4,1296.6 1921.3,1294.0 1922.2,1297.6 1923.1,1295.8 1924.0,1294.9 1924.9,1294.4 1925.8,1293.7 1926.7,1293.3 1927.6,1293.2 1928.5,1291.8 1929.4,1289.2 1930.3,1288.6 1931.2,1289.8 1932.1,1291.9 1933.0,1293.0 1933.9,1294.7 1934.8,1290.9 1935.7,1294.1 1936.6,1294.8 1937.5,1295.7 1938.4,1297.6 1939.3,1298.2 1940.2,1299.3 1941.1,1299.8 1942.0,1302.5 1942.9,1304.7 1943.8,1306.7 1944.7,1304.5 1945.6,1304.8 1946.5,1306.5 1947.4,1306.1 1948.3,1309.4 1949.2,1307.1 1950.1,1308.9 1951.0,1307.2 1951.9,1309.2 1952.8,1310.4 1953.7,1312.8 1954.6,1309.0 1955.5,1310.2 1956.4,1306.0 1957.3,1306.9 1958.2,1307.0 1959.1,1307.1 1960.0,1308.0 1960.9,1309.1 1961.8,1306.7 1962.7,1310.8 1963.6,1309.2 1964.5,1314.5 1965.4,1312.4 1966.3,1311.6 1967.2,1310.7 1968.1,1310.4 1969.0,1310.0 1969.9,1308.6 1970.8,1311.3 1971.7,1311.0 1972.6,1312.2 1973.5,1311.4 1974.4,1313.0 1975.3,1311.2 1976.2,1318.2 1977.1,1312.8 1978.0,1314.2 1978.9,1317.3 1979.8,1318.7 1980.7,1316.6 1981.6,1316.3 1982.5,1317.7 1983.4,1319.3 1984.3,1320.6 1985.2,1322.5 1986.1,1325.2 1987.0,1325.8 1987.9,1323.8 1988.8,1326.0 1989.7,1327.1 1990.6,1328.4 1991.5,1326.6 1992.4,1326.3 1993.3,1329.1 1994.2,1330.4 1995.1,1326.7 1996.0,1329.7 1996.9,1328.7 1997.8,1325.1 1998.7,1322.5 1999.6,1323.3 2000.5,1323.0 2001.4,1323.7 2002.3,1319.8 2003.2,1325.6 2004.1,1325.0 2005.0,1320.0 2005.9,1317.8 2006.8,1319.9 2007.7,1320.4 2008.6,1321.3 2009.5,1319.9 2010.4,1318.6 2011.3,1316.7 2012.2,1321.1 2013.1,1322.3 2014.0,1321.3 2014.9,1322.9 2015.8,1322.6 2016.7,1321.8 2017.6,1320.2 2018.5,1322.3 2019.4,1319.5 2020.3,1323.5 2021.2,1319.9 2022.1,1322.5 2023.0,1321.2 2023.9,1323.5 2024.8,1323.2 2025.7,1325.0 2026.6,1323.6 2027.5,1322.9 2028.4,1325.6 2029.3,1326.1 2030.2,1325.1 2031.1,1327.0 2032.0,1326.2 2032.9,1329.6 2033.8,1329.6 2034.7,1330.9 2035.6,1335.5 2036.5,1332.6 2037.4,1333.6 2038.3,1333.2 2039.2,1331.2 2040.1,1329.6 2041.0,1330.9 2041.9,1330.2 2042.8,1323.9 2043.7,1327.9 2044.6,1327.6 2045.5,1327.2 2046.4,1329.8 2047.3,1327.1 2048.2,1329.1 2049.1,1326.9 2050.0,1327.1 2050.9,1328.8 2051.8,1326.8 2052.7,1327.9 2053.6,1326.6 2054.5,1327.1 2055.4,1329.7 2056.3,1329.7 2057.2,1327.0 2058.1,1326.3 2059.0,1331.3 2059.9,1325.9 2060.8,1324.9 2061.7,1326.4 2062.6,1323.8 2063.5,1323.8 2064.4,1325.1 2065.3,1325.4 2066.2,1324.6 2067.1,1328.0 2068.0,1326.8 2068.9,1327.6 2069.8,1328.9 2070.7,1328.2 2071.6,1329.3 2072.5,1328.7 2073.4,1326.9 2074.3,1328.1 2075.2,1326.8 2076.1,1326.6 2077.0,1327.0 2077.9,1328.5 2078.8,1327.2 2079.7,1328.6 2080.6,1329.1 2081.5,1326.8 2082.4,1326.1 2083.3,1325.9 2084.2,1327.6 2085.1,1328.5 2086.0,1329.7 2086.9,1325.5 2087.8,1328.9 2088.7,1329.2 2089.6,1331.7 2090.5,1328.9 2091.4,1329.2 2092.3,1327.6 2093.2,1329.4 2094.1,1329.5 2095.0,1330.3 2095.9,1330.5 2096.8,1328.7 2097.7,1330.0 2098.6,1329.8 2099.5,1329.6 2100.4,1327.4 2101.3,1328.3"/>
</g>
<rect x="178.5" y="22.7" width="1924.0" height="1509.3" fill="none" stroke="#000" stroke-width="6.4"/>
<g stroke="#000" stroke-width="6"><line x1="178.5" y1="1532.0" x2="178.5" y2="1550"/><line x1="315.2" y1="1532.0" x2="315.2" y2="1563.6"/><line x1="452.6" y1="1532.0" x2="452.6" y2="1550"/><line x1="590.0" y1="1532.0" x2="590.0" y2="1563.6"/><line x1="727.4" y1="1532.0" x2="727.4" y2="1550"/><line x1="864.8" y1="1532.0" x2="864.8" y2="1563.6"/><line x1="1002.2" y1="1532.0" x2="1002.2" y2="1550"/><line x1="1139.6" y1="1532.0" x2="1139.6" y2="1563.6"/><line x1="1277.0" y1="1532.0" x2="1277.0" y2="1550"/><line x1="1414.4" y1="1532.0" x2="1414.4" y2="1563.6"/><line x1="1551.8" y1="1532.0" x2="1551.8" y2="1550"/><line x1="1689.2" y1="1532.0" x2="1689.2" y2="1563.6"/><line x1="1826.6" y1="1532.0" x2="1826.6" y2="1550"/><line x1="1964.0" y1="1532.0" x2="1964.0" y2="1563.6"/><line x1="2102.5" y1="1532.0" x2="2102.5" y2="1550"/></g>
<g font-size="66" fill="#000"><text x="261.9" y="1631.5" textLength="106.6" lengthAdjust="spacingAndGlyphs">100</text><text x="536.7" y="1631.5" textLength="106.6" lengthAdjust="spacingAndGlyphs">200</text><text x="811.5" y="1631.5" textLength="106.6" lengthAdjust="spacingAndGlyphs">300</text><text x="1086.3" y="1631.5" textLength="106.6" lengthAdjust="spacingAndGlyphs">400</text><text x="1361.1" y="1631.5" textLength="106.6" lengthAdjust="spacingAndGlyphs">500</text><text x="1635.9" y="1631.5" textLength="106.6" lengthAdjust="spacingAndGlyphs">600</text><text x="1910.7" y="1631.5" textLength="106.6" lengthAdjust="spacingAndGlyphs">700</text></g>
<text x="754.4" y="1761" font-size="79" fill="#000" textLength="600" lengthAdjust="spacing">Temperature (<tspan font-size="56" dy="-34">o</tspan><tspan dy="34">C)</tspan></text>
<text transform="translate(82.5,1074) rotate(-90)" font-size="79.5" fill="#000" textLength="601.5" lengthAdjust="spacing">TCD Signal (a.u.)</text>
<g font-weight="bold" font-size="77">
<text x="208.7" y="207.9" fill="#22b14c" textLength="200.5" lengthAdjust="spacingAndGlyphs">F30Al</text>
<text x="203.4" y="655.6" fill="#3f48cc" textLength="201" lengthAdjust="spacingAndGlyphs">F20Al</text>
<text x="203.4" y="1187.9" fill="#ed1c24" textLength="201" lengthAdjust="spacingAndGlyphs">F10Al</text>
</g>
</svg>
</body></html>
